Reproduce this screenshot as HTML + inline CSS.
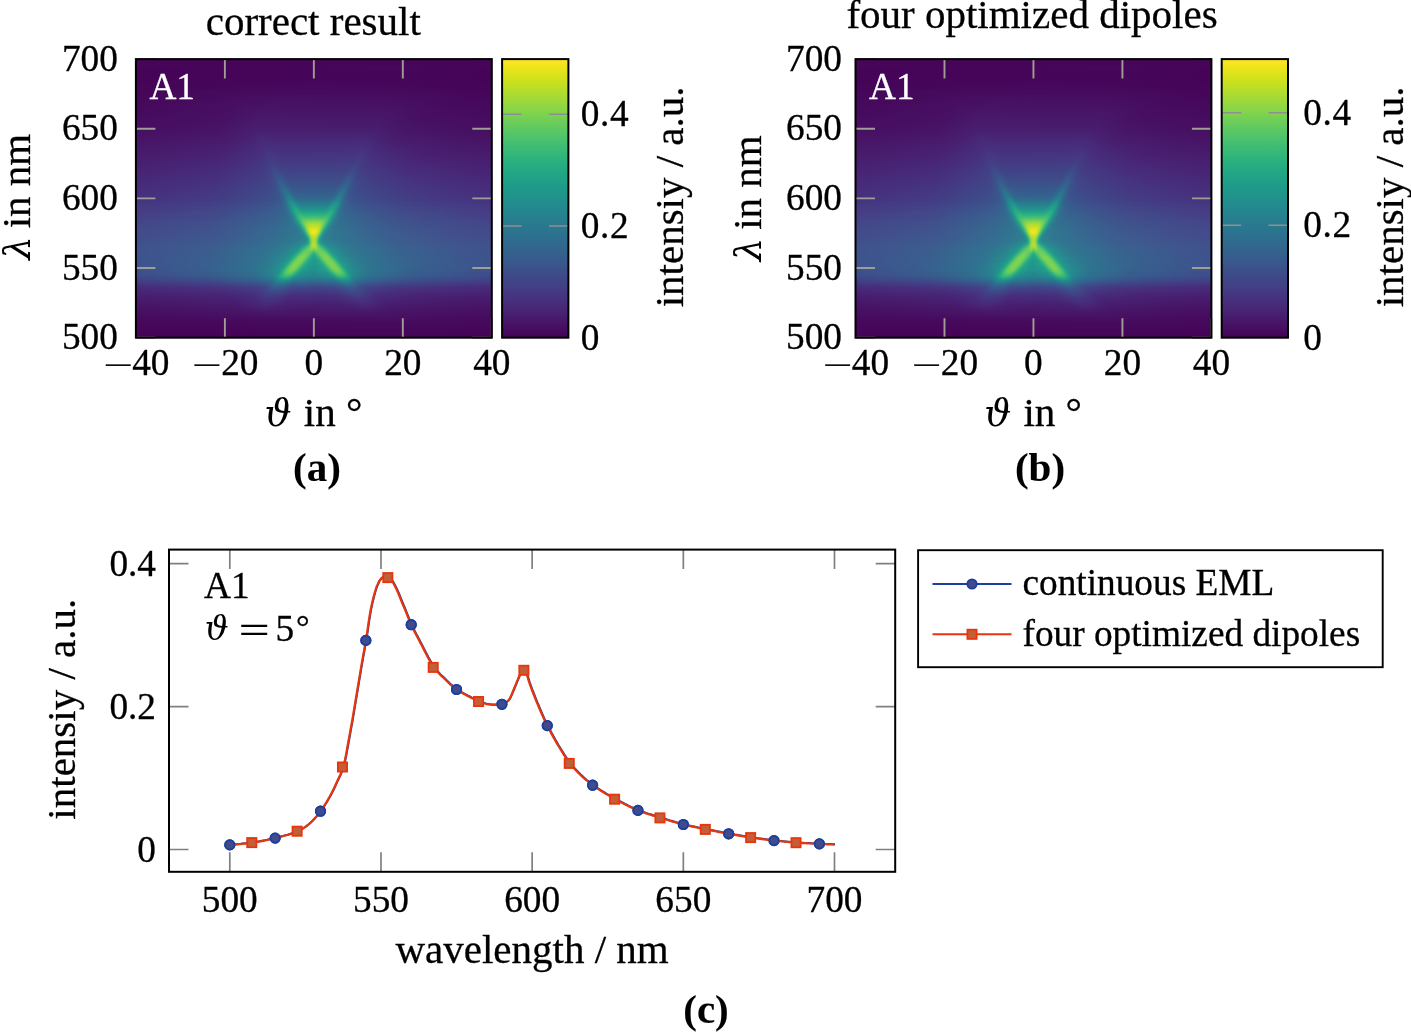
<!DOCTYPE html>
<html><head><meta charset="utf-8"><title>figure</title>
<style>html,body{margin:0;padding:0;background:#fff}svg{display:block}svg{font-family:"Liberation Serif",serif;font-size:37.3px}text{stroke:#000;stroke-width:.3px}text.w{fill:#fff;stroke:#fff}text.b{stroke-width:.1px}text.n{stroke:none}</style>
</head><body>
<svg width="1411" height="1032" viewBox="0 0 1411 1032">
<defs>
<linearGradient id="cb" x1="0" y1="1" x2="0" y2="0"><stop offset="0" stop-color="#440154"/><stop offset="0.03125" stop-color="#470d60"/><stop offset="0.0625" stop-color="#48186a"/><stop offset="0.09375" stop-color="#482374"/><stop offset="0.125" stop-color="#472d7b"/><stop offset="0.1562" stop-color="#453781"/><stop offset="0.1875" stop-color="#424086"/><stop offset="0.2188" stop-color="#3e4989"/><stop offset="0.25" stop-color="#3b528b"/><stop offset="0.2812" stop-color="#375b8d"/><stop offset="0.3125" stop-color="#33638d"/><stop offset="0.3438" stop-color="#2f6b8e"/><stop offset="0.375" stop-color="#2c728e"/><stop offset="0.4062" stop-color="#297a8e"/><stop offset="0.4375" stop-color="#26828e"/><stop offset="0.4688" stop-color="#23898e"/><stop offset="0.5" stop-color="#21918c"/><stop offset="0.5312" stop-color="#1f988b"/><stop offset="0.5625" stop-color="#1fa088"/><stop offset="0.5938" stop-color="#22a785"/><stop offset="0.625" stop-color="#28ae80"/><stop offset="0.6562" stop-color="#32b67a"/><stop offset="0.6875" stop-color="#3fbc73"/><stop offset="0.7188" stop-color="#4ec36b"/><stop offset="0.75" stop-color="#5ec962"/><stop offset="0.7812" stop-color="#70cf57"/><stop offset="0.8125" stop-color="#84d44b"/><stop offset="0.8438" stop-color="#98d83e"/><stop offset="0.875" stop-color="#addc30"/><stop offset="0.9062" stop-color="#c2df23"/><stop offset="0.9375" stop-color="#d8e219"/><stop offset="0.9688" stop-color="#ece51b"/><stop offset="1" stop-color="#fde725"/></linearGradient>
<linearGradient id="r0" gradientUnits="userSpaceOnUse" x1="0" x2="356.8" y1="0" y2="0"><stop offset="0" stop-color="#440256"/><stop offset="1" stop-color="#440256"/></linearGradient>
<linearGradient id="r1" gradientUnits="userSpaceOnUse" x1="0" x2="356.8" y1="0" y2="0"><stop offset="0" stop-color="#440256"/><stop offset="1" stop-color="#440256"/></linearGradient>
<linearGradient id="r2" gradientUnits="userSpaceOnUse" x1="0" x2="356.8" y1="0" y2="0"><stop offset="0" stop-color="#440256"/><stop offset="1" stop-color="#440256"/></linearGradient>
<linearGradient id="r3" gradientUnits="userSpaceOnUse" x1="0" x2="356.8" y1="0" y2="0"><stop offset="0" stop-color="#440256"/><stop offset="1" stop-color="#440256"/></linearGradient>
<linearGradient id="r4" gradientUnits="userSpaceOnUse" x1="0" x2="356.8" y1="0" y2="0"><stop offset="0" stop-color="#440256"/><stop offset="0.7402" stop-color="#450559"/><stop offset="1" stop-color="#440256"/></linearGradient>
<linearGradient id="r5" gradientUnits="userSpaceOnUse" x1="0" x2="356.8" y1="0" y2="0"><stop offset="0" stop-color="#440256"/><stop offset="0.7514" stop-color="#450559"/><stop offset="1" stop-color="#440256"/></linearGradient>
<linearGradient id="r6" gradientUnits="userSpaceOnUse" x1="0" x2="356.8" y1="0" y2="0"><stop offset="0" stop-color="#440256"/><stop offset="0.7626" stop-color="#450559"/><stop offset="1" stop-color="#440256"/></linearGradient>
<linearGradient id="r7" gradientUnits="userSpaceOnUse" x1="0" x2="356.8" y1="0" y2="0"><stop offset="0" stop-color="#440256"/><stop offset="0.7737" stop-color="#450559"/><stop offset="1" stop-color="#440256"/></linearGradient>
<linearGradient id="r8" gradientUnits="userSpaceOnUse" x1="0" x2="356.8" y1="0" y2="0"><stop offset="0" stop-color="#440256"/><stop offset="0.7849" stop-color="#450559"/><stop offset="1" stop-color="#440256"/></linearGradient>
<linearGradient id="r9" gradientUnits="userSpaceOnUse" x1="0" x2="356.8" y1="0" y2="0"><stop offset="0" stop-color="#450457"/><stop offset="0.7291" stop-color="#46075a"/><stop offset="1" stop-color="#450457"/></linearGradient>
<linearGradient id="r10" gradientUnits="userSpaceOnUse" x1="0" x2="356.8" y1="0" y2="0"><stop offset="0" stop-color="#450457"/><stop offset="0.7346" stop-color="#46075a"/><stop offset="1" stop-color="#450457"/></linearGradient>
<linearGradient id="r11" gradientUnits="userSpaceOnUse" x1="0" x2="356.8" y1="0" y2="0"><stop offset="0" stop-color="#450457"/><stop offset="0.2765" stop-color="#46075a"/><stop offset="0.7626" stop-color="#46075a"/><stop offset="1" stop-color="#450457"/></linearGradient>
<linearGradient id="r12" gradientUnits="userSpaceOnUse" x1="0" x2="356.8" y1="0" y2="0"><stop offset="0" stop-color="#450457"/><stop offset="0.5168" stop-color="#46085c"/><stop offset="0.919" stop-color="#450559"/><stop offset="1" stop-color="#450457"/></linearGradient>
<linearGradient id="r13" gradientUnits="userSpaceOnUse" x1="0" x2="356.8" y1="0" y2="0"><stop offset="0" stop-color="#450559"/><stop offset="0.2765" stop-color="#46085c"/><stop offset="0.757" stop-color="#46085c"/><stop offset="1" stop-color="#450559"/></linearGradient>
<linearGradient id="r14" gradientUnits="userSpaceOnUse" x1="0" x2="356.8" y1="0" y2="0"><stop offset="0" stop-color="#450559"/><stop offset="0.5279" stop-color="#460a5d"/><stop offset="0.8631" stop-color="#46075a"/><stop offset="1" stop-color="#450559"/></linearGradient>
<linearGradient id="r15" gradientUnits="userSpaceOnUse" x1="0" x2="356.8" y1="0" y2="0"><stop offset="0" stop-color="#450559"/><stop offset="0.4721" stop-color="#460b5e"/><stop offset="0.757" stop-color="#460a5d"/><stop offset="1" stop-color="#450559"/></linearGradient>
<linearGradient id="r16" gradientUnits="userSpaceOnUse" x1="0" x2="356.8" y1="0" y2="0"><stop offset="0" stop-color="#46075a"/><stop offset="0.2877" stop-color="#460b5e"/><stop offset="0.7346" stop-color="#460b5e"/><stop offset="1" stop-color="#46075a"/></linearGradient>
<linearGradient id="r17" gradientUnits="userSpaceOnUse" x1="0" x2="356.8" y1="0" y2="0"><stop offset="0" stop-color="#46075a"/><stop offset="0.2709" stop-color="#460b5e"/><stop offset="0.7514" stop-color="#460b5e"/><stop offset="1" stop-color="#46075a"/></linearGradient>
<linearGradient id="r18" gradientUnits="userSpaceOnUse" x1="0" x2="356.8" y1="0" y2="0"><stop offset="0" stop-color="#46075a"/><stop offset="0.2598" stop-color="#460b5e"/><stop offset="0.4609" stop-color="#470e61"/><stop offset="0.7346" stop-color="#470d60"/><stop offset="0.9022" stop-color="#46085c"/><stop offset="1" stop-color="#46075a"/></linearGradient>
<linearGradient id="r19" gradientUnits="userSpaceOnUse" x1="0" x2="356.8" y1="0" y2="0"><stop offset="0" stop-color="#46075a"/><stop offset="0.2486" stop-color="#460b5e"/><stop offset="0.3492" stop-color="#471063"/><stop offset="0.7179" stop-color="#470e61"/><stop offset="0.9246" stop-color="#46085c"/><stop offset="1" stop-color="#46075a"/></linearGradient>
<linearGradient id="r20" gradientUnits="userSpaceOnUse" x1="0" x2="356.8" y1="0" y2="0"><stop offset="0" stop-color="#46085c"/><stop offset="0.2374" stop-color="#460b5e"/><stop offset="0.3492" stop-color="#471063"/><stop offset="0.7291" stop-color="#470e61"/><stop offset="0.9637" stop-color="#46085c"/><stop offset="1" stop-color="#46085c"/></linearGradient>
<linearGradient id="r21" gradientUnits="userSpaceOnUse" x1="0" x2="356.8" y1="0" y2="0"><stop offset="0" stop-color="#46085c"/><stop offset="0.2765" stop-color="#470e61"/><stop offset="0.405" stop-color="#471164"/><stop offset="0.7179" stop-color="#471063"/><stop offset="0.8631" stop-color="#460a5d"/><stop offset="1" stop-color="#46085c"/></linearGradient>
<linearGradient id="r22" gradientUnits="userSpaceOnUse" x1="0" x2="356.8" y1="0" y2="0"><stop offset="0" stop-color="#46085c"/><stop offset="0.2654" stop-color="#470e61"/><stop offset="0.433" stop-color="#471164"/><stop offset="0.7291" stop-color="#471063"/><stop offset="0.8743" stop-color="#460a5d"/><stop offset="1" stop-color="#46085c"/></linearGradient>
<linearGradient id="r23" gradientUnits="userSpaceOnUse" x1="0" x2="356.8" y1="0" y2="0"><stop offset="0" stop-color="#460a5d"/><stop offset="0.2598" stop-color="#470e61"/><stop offset="0.3492" stop-color="#471365"/><stop offset="0.7179" stop-color="#471164"/><stop offset="0.8966" stop-color="#460a5d"/><stop offset="1" stop-color="#460a5d"/></linearGradient>
<linearGradient id="r24" gradientUnits="userSpaceOnUse" x1="0" x2="356.8" y1="0" y2="0"><stop offset="0" stop-color="#460a5d"/><stop offset="0.2486" stop-color="#470e61"/><stop offset="0.3492" stop-color="#481467"/><stop offset="0.7067" stop-color="#471365"/><stop offset="0.8128" stop-color="#470d60"/><stop offset="1" stop-color="#460a5d"/></linearGradient>
<linearGradient id="r25" gradientUnits="userSpaceOnUse" x1="0" x2="356.8" y1="0" y2="0"><stop offset="0" stop-color="#460a5d"/><stop offset="0.2374" stop-color="#470e61"/><stop offset="0.3492" stop-color="#481467"/><stop offset="0.7123" stop-color="#471365"/><stop offset="0.8296" stop-color="#470d60"/><stop offset="1" stop-color="#460a5d"/></linearGradient>
<linearGradient id="r26" gradientUnits="userSpaceOnUse" x1="0" x2="356.8" y1="0" y2="0"><stop offset="0" stop-color="#460b5e"/><stop offset="0.2263" stop-color="#470e61"/><stop offset="0.3436" stop-color="#481668"/><stop offset="0.7011" stop-color="#481467"/><stop offset="0.8464" stop-color="#470d60"/><stop offset="1" stop-color="#460b5e"/></linearGradient>
<linearGradient id="r27" gradientUnits="userSpaceOnUse" x1="0" x2="356.8" y1="0" y2="0"><stop offset="0" stop-color="#460b5e"/><stop offset="0.243" stop-color="#471063"/><stop offset="0.3547" stop-color="#481769"/><stop offset="0.6955" stop-color="#481668"/><stop offset="0.8352" stop-color="#470d60"/><stop offset="1" stop-color="#460b5e"/></linearGradient>
<linearGradient id="r28" gradientUnits="userSpaceOnUse" x1="0" x2="356.8" y1="0" y2="0"><stop offset="0" stop-color="#460b5e"/><stop offset="0.2598" stop-color="#471164"/><stop offset="0.338" stop-color="#481769"/><stop offset="0.7011" stop-color="#481668"/><stop offset="0.824" stop-color="#470e61"/><stop offset="1" stop-color="#460b5e"/></linearGradient>
<linearGradient id="r29" gradientUnits="userSpaceOnUse" x1="0" x2="356.8" y1="0" y2="0"><stop offset="0" stop-color="#460b5e"/><stop offset="0.2542" stop-color="#471164"/><stop offset="0.3492" stop-color="#48186a"/><stop offset="0.7067" stop-color="#481668"/><stop offset="0.7961" stop-color="#471063"/><stop offset="1" stop-color="#460b5e"/></linearGradient>
<linearGradient id="r30" gradientUnits="userSpaceOnUse" x1="0" x2="356.8" y1="0" y2="0"><stop offset="0" stop-color="#470d60"/><stop offset="0.243" stop-color="#471164"/><stop offset="0.3492" stop-color="#481a6c"/><stop offset="0.6899" stop-color="#48186a"/><stop offset="0.8073" stop-color="#471063"/><stop offset="1" stop-color="#470d60"/></linearGradient>
<linearGradient id="r31" gradientUnits="userSpaceOnUse" x1="0" x2="356.8" y1="0" y2="0"><stop offset="0" stop-color="#470d60"/><stop offset="0.2374" stop-color="#471164"/><stop offset="0.338" stop-color="#481b6d"/><stop offset="0.6844" stop-color="#481a6c"/><stop offset="0.7793" stop-color="#471164"/><stop offset="1" stop-color="#470d60"/></linearGradient>
<linearGradient id="r32" gradientUnits="userSpaceOnUse" x1="0" x2="356.8" y1="0" y2="0"><stop offset="0" stop-color="#470d60"/><stop offset="0.2263" stop-color="#471164"/><stop offset="0.3436" stop-color="#481b6d"/><stop offset="0.6844" stop-color="#481a6c"/><stop offset="0.7961" stop-color="#471164"/><stop offset="1" stop-color="#470d60"/></linearGradient>
<linearGradient id="r33" gradientUnits="userSpaceOnUse" x1="0" x2="356.8" y1="0" y2="0"><stop offset="0" stop-color="#470e61"/><stop offset="0.2151" stop-color="#471164"/><stop offset="0.3492" stop-color="#481c6e"/><stop offset="0.6788" stop-color="#481b6d"/><stop offset="0.7737" stop-color="#471365"/><stop offset="0.986" stop-color="#470e61"/><stop offset="1" stop-color="#470e61"/></linearGradient>
<linearGradient id="r34" gradientUnits="userSpaceOnUse" x1="0" x2="356.8" y1="0" y2="0"><stop offset="0" stop-color="#470e61"/><stop offset="0.2542" stop-color="#481467"/><stop offset="0.3212" stop-color="#481b6d"/><stop offset="0.338" stop-color="#481f70"/><stop offset="0.4385" stop-color="#481c6e"/><stop offset="0.6564" stop-color="#481d6f"/><stop offset="0.6732" stop-color="#481d6f"/><stop offset="0.7346" stop-color="#481668"/><stop offset="0.8799" stop-color="#471063"/><stop offset="1" stop-color="#470e61"/></linearGradient>
<linearGradient id="r35" gradientUnits="userSpaceOnUse" x1="0" x2="356.8" y1="0" y2="0"><stop offset="0" stop-color="#470e61"/><stop offset="0.243" stop-color="#481467"/><stop offset="0.3492" stop-color="#481f70"/><stop offset="0.6508" stop-color="#481f70"/><stop offset="0.7961" stop-color="#471365"/><stop offset="1" stop-color="#470e61"/></linearGradient>
<linearGradient id="r36" gradientUnits="userSpaceOnUse" x1="0" x2="356.8" y1="0" y2="0"><stop offset="0" stop-color="#471063"/><stop offset="0.2263" stop-color="#481467"/><stop offset="0.3324" stop-color="#482071"/><stop offset="0.6453" stop-color="#482071"/><stop offset="0.6676" stop-color="#482071"/><stop offset="0.757" stop-color="#481668"/><stop offset="0.9804" stop-color="#471063"/><stop offset="1" stop-color="#471063"/></linearGradient>
<linearGradient id="r37" gradientUnits="userSpaceOnUse" x1="0" x2="356.8" y1="0" y2="0"><stop offset="0" stop-color="#471164"/><stop offset="0.2263" stop-color="#481668"/><stop offset="0.3268" stop-color="#482071"/><stop offset="0.3547" stop-color="#482374"/><stop offset="0.6508" stop-color="#482374"/><stop offset="0.7514" stop-color="#481769"/><stop offset="1" stop-color="#471164"/></linearGradient>
<linearGradient id="r38" gradientUnits="userSpaceOnUse" x1="0" x2="356.8" y1="0" y2="0"><stop offset="0" stop-color="#471164"/><stop offset="0.2542" stop-color="#48186a"/><stop offset="0.3268" stop-color="#482071"/><stop offset="0.3492" stop-color="#482576"/><stop offset="0.6676" stop-color="#482374"/><stop offset="0.7179" stop-color="#481b6d"/><stop offset="0.9134" stop-color="#471365"/><stop offset="1" stop-color="#471164"/></linearGradient>
<linearGradient id="r39" gradientUnits="userSpaceOnUse" x1="0" x2="356.8" y1="0" y2="0"><stop offset="0" stop-color="#471365"/><stop offset="0.2374" stop-color="#48186a"/><stop offset="0.3324" stop-color="#482374"/><stop offset="0.3492" stop-color="#482878"/><stop offset="0.4218" stop-color="#482475"/><stop offset="0.6453" stop-color="#482677"/><stop offset="0.662" stop-color="#482576"/><stop offset="0.7291" stop-color="#481b6d"/><stop offset="0.9637" stop-color="#471365"/><stop offset="1" stop-color="#471365"/></linearGradient>
<linearGradient id="r40" gradientUnits="userSpaceOnUse" x1="0" x2="356.8" y1="0" y2="0"><stop offset="0" stop-color="#481467"/><stop offset="0.2374" stop-color="#481a6c"/><stop offset="0.3324" stop-color="#482475"/><stop offset="0.3547" stop-color="#482979"/><stop offset="0.4218" stop-color="#482677"/><stop offset="0.6397" stop-color="#482878"/><stop offset="0.662" stop-color="#482677"/><stop offset="0.7179" stop-color="#481d6f"/><stop offset="0.9022" stop-color="#481668"/><stop offset="1" stop-color="#481467"/></linearGradient>
<linearGradient id="r41" gradientUnits="userSpaceOnUse" x1="0" x2="356.8" y1="0" y2="0"><stop offset="0" stop-color="#481467"/><stop offset="0.2374" stop-color="#481b6d"/><stop offset="0.338" stop-color="#482677"/><stop offset="0.3547" stop-color="#472c7a"/><stop offset="0.3994" stop-color="#482878"/><stop offset="0.6397" stop-color="#472a7a"/><stop offset="0.6564" stop-color="#482979"/><stop offset="0.7123" stop-color="#481f70"/><stop offset="0.8799" stop-color="#481769"/><stop offset="1" stop-color="#481467"/></linearGradient>
<linearGradient id="r42" gradientUnits="userSpaceOnUse" x1="0" x2="356.8" y1="0" y2="0"><stop offset="0" stop-color="#481668"/><stop offset="0.243" stop-color="#481c6e"/><stop offset="0.3436" stop-color="#482979"/><stop offset="0.3659" stop-color="#472c7a"/><stop offset="0.4665" stop-color="#482979"/><stop offset="0.6285" stop-color="#472a7a"/><stop offset="0.6508" stop-color="#472c7a"/><stop offset="0.6899" stop-color="#482374"/><stop offset="0.8184" stop-color="#481a6c"/><stop offset="1" stop-color="#481668"/></linearGradient>
<linearGradient id="r43" gradientUnits="userSpaceOnUse" x1="0" x2="356.8" y1="0" y2="0"><stop offset="0" stop-color="#481769"/><stop offset="0.243" stop-color="#481d6f"/><stop offset="0.3436" stop-color="#472a7a"/><stop offset="0.3659" stop-color="#472e7c"/><stop offset="0.6341" stop-color="#472e7c"/><stop offset="0.7291" stop-color="#482071"/><stop offset="0.9525" stop-color="#481769"/><stop offset="1" stop-color="#481769"/></linearGradient>
<linearGradient id="r44" gradientUnits="userSpaceOnUse" x1="0" x2="356.8" y1="0" y2="0"><stop offset="0" stop-color="#481769"/><stop offset="0.2598" stop-color="#482071"/><stop offset="0.338" stop-color="#472a7a"/><stop offset="0.3659" stop-color="#46307e"/><stop offset="0.4609" stop-color="#472d7b"/><stop offset="0.6285" stop-color="#472f7d"/><stop offset="0.6564" stop-color="#472c7a"/><stop offset="0.7123" stop-color="#482374"/><stop offset="0.8687" stop-color="#481a6c"/><stop offset="1" stop-color="#481769"/></linearGradient>
<linearGradient id="r45" gradientUnits="userSpaceOnUse" x1="0" x2="356.8" y1="0" y2="0"><stop offset="0" stop-color="#48186a"/><stop offset="0.2654" stop-color="#482173"/><stop offset="0.3492" stop-color="#472e7c"/><stop offset="0.3659" stop-color="#46337f"/><stop offset="0.4106" stop-color="#472f7d"/><stop offset="0.6229" stop-color="#46307e"/><stop offset="0.6397" stop-color="#46337f"/><stop offset="0.6732" stop-color="#482979"/><stop offset="0.8073" stop-color="#481d6f"/><stop offset="1" stop-color="#48186a"/></linearGradient>
<linearGradient id="r46" gradientUnits="userSpaceOnUse" x1="0" x2="356.8" y1="0" y2="0"><stop offset="0" stop-color="#481a6c"/><stop offset="0.2318" stop-color="#482071"/><stop offset="0.3436" stop-color="#472d7b"/><stop offset="0.3715" stop-color="#463480"/><stop offset="0.4162" stop-color="#46307e"/><stop offset="0.6229" stop-color="#46327e"/><stop offset="0.6397" stop-color="#46337f"/><stop offset="0.6899" stop-color="#482878"/><stop offset="0.8352" stop-color="#481d6f"/><stop offset="1" stop-color="#481a6c"/></linearGradient>
<linearGradient id="r47" gradientUnits="userSpaceOnUse" x1="0" x2="356.8" y1="0" y2="0"><stop offset="0" stop-color="#481b6d"/><stop offset="0.2318" stop-color="#482173"/><stop offset="0.3492" stop-color="#472f7d"/><stop offset="0.3715" stop-color="#453781"/><stop offset="0.405" stop-color="#46327e"/><stop offset="0.6229" stop-color="#463480"/><stop offset="0.6341" stop-color="#453781"/><stop offset="0.662" stop-color="#472d7b"/><stop offset="0.8128" stop-color="#481f70"/><stop offset="1" stop-color="#481b6d"/></linearGradient>
<linearGradient id="r48" gradientUnits="userSpaceOnUse" x1="0" x2="356.8" y1="0" y2="0"><stop offset="0" stop-color="#481b6d"/><stop offset="0.2151" stop-color="#482173"/><stop offset="0.3492" stop-color="#46307e"/><stop offset="0.3715" stop-color="#443983"/><stop offset="0.405" stop-color="#463480"/><stop offset="0.6173" stop-color="#453581"/><stop offset="0.6341" stop-color="#453882"/><stop offset="0.662" stop-color="#472e7c"/><stop offset="0.8184" stop-color="#482071"/><stop offset="1" stop-color="#481b6d"/></linearGradient>
<linearGradient id="r49" gradientUnits="userSpaceOnUse" x1="0" x2="356.8" y1="0" y2="0"><stop offset="0" stop-color="#481c6e"/><stop offset="0.2151" stop-color="#482374"/><stop offset="0.3436" stop-color="#46307e"/><stop offset="0.3771" stop-color="#443a83"/><stop offset="0.4218" stop-color="#453581"/><stop offset="0.6117" stop-color="#453781"/><stop offset="0.6341" stop-color="#453882"/><stop offset="0.6732" stop-color="#472e7c"/><stop offset="0.7961" stop-color="#482374"/><stop offset="1" stop-color="#481c6e"/></linearGradient>
<linearGradient id="r50" gradientUnits="userSpaceOnUse" x1="0" x2="356.8" y1="0" y2="0"><stop offset="0" stop-color="#481d6f"/><stop offset="0.2374" stop-color="#482576"/><stop offset="0.3603" stop-color="#453581"/><stop offset="0.3771" stop-color="#433d84"/><stop offset="0.4106" stop-color="#453882"/><stop offset="0.6117" stop-color="#443983"/><stop offset="0.6229" stop-color="#433d84"/><stop offset="0.6508" stop-color="#46337f"/><stop offset="0.7682" stop-color="#482576"/><stop offset="1" stop-color="#481d6f"/></linearGradient>
<linearGradient id="r51" gradientUnits="userSpaceOnUse" x1="0" x2="356.8" y1="0" y2="0"><stop offset="0" stop-color="#481f70"/><stop offset="0.2207" stop-color="#482576"/><stop offset="0.3547" stop-color="#453581"/><stop offset="0.3771" stop-color="#423f85"/><stop offset="0.4162" stop-color="#443983"/><stop offset="0.6061" stop-color="#443a83"/><stop offset="0.6229" stop-color="#423f85"/><stop offset="0.6564" stop-color="#46337f"/><stop offset="0.7849" stop-color="#482576"/><stop offset="1" stop-color="#481f70"/></linearGradient>
<linearGradient id="r52" gradientUnits="userSpaceOnUse" x1="0" x2="356.8" y1="0" y2="0"><stop offset="0" stop-color="#481f70"/><stop offset="0.2207" stop-color="#482677"/><stop offset="0.3492" stop-color="#453581"/><stop offset="0.3827" stop-color="#424186"/><stop offset="0.4106" stop-color="#443b84"/><stop offset="0.6006" stop-color="#443b84"/><stop offset="0.6173" stop-color="#424186"/><stop offset="0.6676" stop-color="#46327e"/><stop offset="0.8296" stop-color="#482475"/><stop offset="1" stop-color="#481f70"/></linearGradient>
<linearGradient id="r53" gradientUnits="userSpaceOnUse" x1="0" x2="356.8" y1="0" y2="0"><stop offset="0" stop-color="#482071"/><stop offset="0.2542" stop-color="#472a7a"/><stop offset="0.3547" stop-color="#453781"/><stop offset="0.3883" stop-color="#414487"/><stop offset="0.4162" stop-color="#433d84"/><stop offset="0.6006" stop-color="#423f85"/><stop offset="0.6173" stop-color="#414487"/><stop offset="0.6453" stop-color="#453781"/><stop offset="0.7626" stop-color="#482979"/><stop offset="1" stop-color="#482071"/></linearGradient>
<linearGradient id="r54" gradientUnits="userSpaceOnUse" x1="0" x2="356.8" y1="0" y2="0"><stop offset="0" stop-color="#482173"/><stop offset="0.2374" stop-color="#472a7a"/><stop offset="0.3603" stop-color="#443983"/><stop offset="0.3883" stop-color="#3f4788"/><stop offset="0.4106" stop-color="#423f85"/><stop offset="0.6006" stop-color="#424186"/><stop offset="0.6117" stop-color="#3f4788"/><stop offset="0.6453" stop-color="#453882"/><stop offset="0.7514" stop-color="#472c7a"/><stop offset="0.9022" stop-color="#482475"/><stop offset="1" stop-color="#482173"/></linearGradient>
<linearGradient id="r55" gradientUnits="userSpaceOnUse" x1="0" x2="356.8" y1="0" y2="0"><stop offset="0" stop-color="#482374"/><stop offset="0.2207" stop-color="#472a7a"/><stop offset="0.3492" stop-color="#443983"/><stop offset="0.3715" stop-color="#423f85"/><stop offset="0.3883" stop-color="#3e4989"/><stop offset="0.4218" stop-color="#424086"/><stop offset="0.595" stop-color="#414287"/><stop offset="0.6117" stop-color="#3e4989"/><stop offset="0.6397" stop-color="#443a83"/><stop offset="0.7514" stop-color="#472d7b"/><stop offset="0.9302" stop-color="#482475"/><stop offset="1" stop-color="#482374"/></linearGradient>
<linearGradient id="r56" gradientUnits="userSpaceOnUse" x1="0" x2="356.8" y1="0" y2="0"><stop offset="0" stop-color="#482475"/><stop offset="0.2039" stop-color="#472a7a"/><stop offset="0.3268" stop-color="#453781"/><stop offset="0.3715" stop-color="#423f85"/><stop offset="0.3939" stop-color="#3d4d8a"/><stop offset="0.4162" stop-color="#414287"/><stop offset="0.5894" stop-color="#414487"/><stop offset="0.6061" stop-color="#3d4d8a"/><stop offset="0.6173" stop-color="#3f4788"/><stop offset="0.6397" stop-color="#443b84"/><stop offset="0.7682" stop-color="#472d7b"/><stop offset="0.9693" stop-color="#482475"/><stop offset="1" stop-color="#482475"/></linearGradient>
<linearGradient id="r57" gradientUnits="userSpaceOnUse" x1="0" x2="356.8" y1="0" y2="0"><stop offset="0" stop-color="#482475"/><stop offset="0.2207" stop-color="#472d7b"/><stop offset="0.3492" stop-color="#443b84"/><stop offset="0.3771" stop-color="#414287"/><stop offset="0.3939" stop-color="#3c508b"/><stop offset="0.4218" stop-color="#404588"/><stop offset="0.5894" stop-color="#3f4788"/><stop offset="0.6061" stop-color="#3c508b"/><stop offset="0.6285" stop-color="#424086"/><stop offset="0.7514" stop-color="#472f7d"/><stop offset="0.9749" stop-color="#482576"/><stop offset="1" stop-color="#482475"/></linearGradient>
<linearGradient id="r58" gradientUnits="userSpaceOnUse" x1="0" x2="356.8" y1="0" y2="0"><stop offset="0" stop-color="#482576"/><stop offset="0.2542" stop-color="#46307e"/><stop offset="0.3715" stop-color="#424186"/><stop offset="0.3939" stop-color="#3b528b"/><stop offset="0.405" stop-color="#3c508b"/><stop offset="0.4218" stop-color="#3f4788"/><stop offset="0.5838" stop-color="#3f4889"/><stop offset="0.6006" stop-color="#3a538b"/><stop offset="0.6117" stop-color="#3d4d8a"/><stop offset="0.6285" stop-color="#424186"/><stop offset="0.7514" stop-color="#46307e"/><stop offset="1" stop-color="#482576"/></linearGradient>
<linearGradient id="r59" gradientUnits="userSpaceOnUse" x1="0" x2="356.8" y1="0" y2="0"><stop offset="0" stop-color="#482677"/><stop offset="0.2374" stop-color="#46307e"/><stop offset="0.3715" stop-color="#414287"/><stop offset="0.3883" stop-color="#3d4d8a"/><stop offset="0.3994" stop-color="#38588c"/><stop offset="0.4274" stop-color="#3e4989"/><stop offset="0.5782" stop-color="#3e4a89"/><stop offset="0.6006" stop-color="#38588c"/><stop offset="0.6229" stop-color="#414487"/><stop offset="0.6899" stop-color="#453882"/><stop offset="0.8464" stop-color="#472c7a"/><stop offset="1" stop-color="#482677"/></linearGradient>
<linearGradient id="r60" gradientUnits="userSpaceOnUse" x1="0" x2="356.8" y1="0" y2="0"><stop offset="0" stop-color="#482878"/><stop offset="0.2263" stop-color="#46307e"/><stop offset="0.3659" stop-color="#424186"/><stop offset="0.3827" stop-color="#3f4788"/><stop offset="0.3994" stop-color="#375a8c"/><stop offset="0.405" stop-color="#375b8d"/><stop offset="0.4218" stop-color="#3d4d8a"/><stop offset="0.5782" stop-color="#3d4d8a"/><stop offset="0.595" stop-color="#375b8d"/><stop offset="0.6006" stop-color="#375a8c"/><stop offset="0.6173" stop-color="#3f4788"/><stop offset="0.662" stop-color="#433d84"/><stop offset="0.8184" stop-color="#472e7c"/><stop offset="1" stop-color="#482878"/></linearGradient>
<linearGradient id="r61" gradientUnits="userSpaceOnUse" x1="0" x2="356.8" y1="0" y2="0"><stop offset="0" stop-color="#482979"/><stop offset="0.2095" stop-color="#46307e"/><stop offset="0.3659" stop-color="#414287"/><stop offset="0.3883" stop-color="#3e4c8a"/><stop offset="0.405" stop-color="#355f8d"/><stop offset="0.4162" stop-color="#39568c"/><stop offset="0.433" stop-color="#3d4e8a"/><stop offset="0.5726" stop-color="#3c4f8a"/><stop offset="0.5838" stop-color="#39568c"/><stop offset="0.595" stop-color="#355f8d"/><stop offset="0.6173" stop-color="#3f4889"/><stop offset="0.662" stop-color="#433e85"/><stop offset="0.8408" stop-color="#472e7c"/><stop offset="1" stop-color="#482979"/></linearGradient>
<linearGradient id="r62" gradientUnits="userSpaceOnUse" x1="0" x2="356.8" y1="0" y2="0"><stop offset="0" stop-color="#482979"/><stop offset="0.2374" stop-color="#463480"/><stop offset="0.3715" stop-color="#404588"/><stop offset="0.3883" stop-color="#3e4c8a"/><stop offset="0.405" stop-color="#34618d"/><stop offset="0.4106" stop-color="#33628d"/><stop offset="0.4274" stop-color="#3b528b"/><stop offset="0.5726" stop-color="#3b528b"/><stop offset="0.5894" stop-color="#33628d"/><stop offset="0.595" stop-color="#34618d"/><stop offset="0.6117" stop-color="#3e4c8a"/><stop offset="0.6508" stop-color="#424186"/><stop offset="0.7961" stop-color="#46327e"/><stop offset="1" stop-color="#482979"/></linearGradient>
<linearGradient id="r63" gradientUnits="userSpaceOnUse" x1="0" x2="356.8" y1="0" y2="0"><stop offset="0" stop-color="#472a7a"/><stop offset="0.243" stop-color="#453581"/><stop offset="0.3771" stop-color="#3f4889"/><stop offset="0.3939" stop-color="#3c508b"/><stop offset="0.4106" stop-color="#31678e"/><stop offset="0.4218" stop-color="#365d8d"/><stop offset="0.433" stop-color="#3a538b"/><stop offset="0.567" stop-color="#3a538b"/><stop offset="0.5782" stop-color="#365d8d"/><stop offset="0.5894" stop-color="#31678e"/><stop offset="0.6061" stop-color="#3c508b"/><stop offset="0.6285" stop-color="#404688"/><stop offset="0.7737" stop-color="#463480"/><stop offset="1" stop-color="#472a7a"/></linearGradient>
<linearGradient id="r64" gradientUnits="userSpaceOnUse" x1="0" x2="356.8" y1="0" y2="0"><stop offset="0" stop-color="#472c7a"/><stop offset="0.2263" stop-color="#453581"/><stop offset="0.3771" stop-color="#3f4889"/><stop offset="0.3994" stop-color="#39568c"/><stop offset="0.4106" stop-color="#30698e"/><stop offset="0.4162" stop-color="#306a8e"/><stop offset="0.433" stop-color="#38588c"/><stop offset="0.4665" stop-color="#39558c"/><stop offset="0.5615" stop-color="#39558c"/><stop offset="0.5726" stop-color="#365d8d"/><stop offset="0.5838" stop-color="#306a8e"/><stop offset="0.5894" stop-color="#30698e"/><stop offset="0.6061" stop-color="#3c508b"/><stop offset="0.6397" stop-color="#404588"/><stop offset="0.7626" stop-color="#453781"/><stop offset="0.9469" stop-color="#472d7b"/><stop offset="1" stop-color="#472c7a"/></linearGradient>
<linearGradient id="r65" gradientUnits="userSpaceOnUse" x1="0" x2="356.8" y1="0" y2="0"><stop offset="0" stop-color="#472d7b"/><stop offset="0.2151" stop-color="#453581"/><stop offset="0.3771" stop-color="#3e4989"/><stop offset="0.3994" stop-color="#39558c"/><stop offset="0.4106" stop-color="#30698e"/><stop offset="0.4162" stop-color="#2e6f8e"/><stop offset="0.4274" stop-color="#32658e"/><stop offset="0.433" stop-color="#365d8d"/><stop offset="0.4553" stop-color="#38588c"/><stop offset="0.5615" stop-color="#375a8c"/><stop offset="0.567" stop-color="#365d8d"/><stop offset="0.5782" stop-color="#2f6c8e"/><stop offset="0.5838" stop-color="#2e6f8e"/><stop offset="0.5894" stop-color="#30698e"/><stop offset="0.6006" stop-color="#39558c"/><stop offset="0.6229" stop-color="#3e4989"/><stop offset="0.757" stop-color="#453882"/><stop offset="0.9581" stop-color="#472e7c"/><stop offset="1" stop-color="#472d7b"/></linearGradient>
<linearGradient id="r66" gradientUnits="userSpaceOnUse" x1="0" x2="356.8" y1="0" y2="0"><stop offset="0" stop-color="#472e7c"/><stop offset="0.1983" stop-color="#453581"/><stop offset="0.3715" stop-color="#3e4989"/><stop offset="0.3994" stop-color="#3a548c"/><stop offset="0.4162" stop-color="#2d718e"/><stop offset="0.4218" stop-color="#2c728e"/><stop offset="0.4385" stop-color="#355e8d"/><stop offset="0.4832" stop-color="#375b8d"/><stop offset="0.5559" stop-color="#365c8d"/><stop offset="0.567" stop-color="#32648e"/><stop offset="0.5782" stop-color="#2c728e"/><stop offset="0.5838" stop-color="#2d718e"/><stop offset="0.6006" stop-color="#3a548c"/><stop offset="0.6341" stop-color="#3f4889"/><stop offset="0.7737" stop-color="#453882"/><stop offset="0.986" stop-color="#472e7c"/><stop offset="1" stop-color="#472e7c"/></linearGradient>
<linearGradient id="r67" gradientUnits="userSpaceOnUse" x1="0" x2="356.8" y1="0" y2="0"><stop offset="0" stop-color="#472e7c"/><stop offset="0.2598" stop-color="#443b84"/><stop offset="0.3827" stop-color="#3d4d8a"/><stop offset="0.3994" stop-color="#3a548c"/><stop offset="0.4106" stop-color="#32648e"/><stop offset="0.4218" stop-color="#2a778e"/><stop offset="0.433" stop-color="#2f6c8e"/><stop offset="0.4441" stop-color="#355f8d"/><stop offset="0.5559" stop-color="#355f8d"/><stop offset="0.5726" stop-color="#2b748e"/><stop offset="0.5782" stop-color="#2a778e"/><stop offset="0.5894" stop-color="#32648e"/><stop offset="0.6006" stop-color="#3a548c"/><stop offset="0.6508" stop-color="#404688"/><stop offset="0.8073" stop-color="#453781"/><stop offset="1" stop-color="#472e7c"/></linearGradient>
<linearGradient id="r68" gradientUnits="userSpaceOnUse" x1="0" x2="356.8" y1="0" y2="0"><stop offset="0" stop-color="#472f7d"/><stop offset="0.2486" stop-color="#443b84"/><stop offset="0.3827" stop-color="#3d4e8a"/><stop offset="0.3994" stop-color="#3a538b"/><stop offset="0.4106" stop-color="#34618d"/><stop offset="0.4218" stop-color="#2a788e"/><stop offset="0.4274" stop-color="#297b8e"/><stop offset="0.4441" stop-color="#32648e"/><stop offset="0.4777" stop-color="#34618d"/><stop offset="0.5503" stop-color="#34618d"/><stop offset="0.5615" stop-color="#2f6b8e"/><stop offset="0.5726" stop-color="#297b8e"/><stop offset="0.5782" stop-color="#2a788e"/><stop offset="0.595" stop-color="#38598c"/><stop offset="0.6061" stop-color="#3b518b"/><stop offset="0.7067" stop-color="#424086"/><stop offset="0.9022" stop-color="#46337f"/><stop offset="1" stop-color="#472f7d"/></linearGradient>
<linearGradient id="r69" gradientUnits="userSpaceOnUse" x1="0" x2="356.8" y1="0" y2="0"><stop offset="0" stop-color="#46307e"/><stop offset="0.2374" stop-color="#443b84"/><stop offset="0.3827" stop-color="#3c4f8a"/><stop offset="0.405" stop-color="#38588c"/><stop offset="0.4162" stop-color="#306a8e"/><stop offset="0.4274" stop-color="#27808e"/><stop offset="0.433" stop-color="#277e8e"/><stop offset="0.4441" stop-color="#2f6c8e"/><stop offset="0.4553" stop-color="#32658e"/><stop offset="0.5503" stop-color="#31678e"/><stop offset="0.5615" stop-color="#2b758e"/><stop offset="0.567" stop-color="#277e8e"/><stop offset="0.5726" stop-color="#27808e"/><stop offset="0.5894" stop-color="#355f8d"/><stop offset="0.6006" stop-color="#3a548c"/><stop offset="0.6732" stop-color="#404688"/><stop offset="0.8184" stop-color="#453882"/><stop offset="1" stop-color="#46307e"/></linearGradient>
<linearGradient id="r70" gradientUnits="userSpaceOnUse" x1="0" x2="356.8" y1="0" y2="0"><stop offset="0" stop-color="#46327e"/><stop offset="0.2207" stop-color="#443b84"/><stop offset="0.3827" stop-color="#3c508b"/><stop offset="0.405" stop-color="#38598c"/><stop offset="0.4162" stop-color="#31688e"/><stop offset="0.4274" stop-color="#26828e"/><stop offset="0.433" stop-color="#24878e"/><stop offset="0.4385" stop-color="#26818e"/><stop offset="0.4497" stop-color="#2e6f8e"/><stop offset="0.4721" stop-color="#2f6c8e"/><stop offset="0.5447" stop-color="#2f6c8e"/><stop offset="0.5559" stop-color="#2a768e"/><stop offset="0.567" stop-color="#24878e"/><stop offset="0.5726" stop-color="#26828e"/><stop offset="0.5894" stop-color="#355e8d"/><stop offset="0.6117" stop-color="#3b518b"/><stop offset="0.7514" stop-color="#433e85"/><stop offset="0.9637" stop-color="#46337f"/><stop offset="1" stop-color="#46327e"/></linearGradient>
<linearGradient id="r71" gradientUnits="userSpaceOnUse" x1="0" x2="356.8" y1="0" y2="0"><stop offset="0" stop-color="#46337f"/><stop offset="0.243" stop-color="#423f85"/><stop offset="0.3771" stop-color="#3b518b"/><stop offset="0.405" stop-color="#375a8c"/><stop offset="0.4162" stop-color="#31668e"/><stop offset="0.433" stop-color="#228d8d"/><stop offset="0.4385" stop-color="#228c8d"/><stop offset="0.4497" stop-color="#29798e"/><stop offset="0.4609" stop-color="#2c728e"/><stop offset="0.5447" stop-color="#2b748e"/><stop offset="0.5503" stop-color="#29798e"/><stop offset="0.5615" stop-color="#228c8d"/><stop offset="0.567" stop-color="#228d8d"/><stop offset="0.5838" stop-color="#31668e"/><stop offset="0.595" stop-color="#375a8c"/><stop offset="0.6229" stop-color="#3b518b"/><stop offset="0.7458" stop-color="#424086"/><stop offset="1" stop-color="#46337f"/></linearGradient>
<linearGradient id="r72" gradientUnits="userSpaceOnUse" x1="0" x2="356.8" y1="0" y2="0"><stop offset="0" stop-color="#463480"/><stop offset="0.2598" stop-color="#414287"/><stop offset="0.3939" stop-color="#39568c"/><stop offset="0.4162" stop-color="#32658e"/><stop offset="0.4274" stop-color="#27808e"/><stop offset="0.433" stop-color="#21908d"/><stop offset="0.4385" stop-color="#1f958b"/><stop offset="0.4441" stop-color="#21908d"/><stop offset="0.4553" stop-color="#277e8e"/><stop offset="0.4665" stop-color="#297a8e"/><stop offset="0.5391" stop-color="#297a8e"/><stop offset="0.5503" stop-color="#25858e"/><stop offset="0.5559" stop-color="#21908d"/><stop offset="0.5615" stop-color="#1f958b"/><stop offset="0.567" stop-color="#21908d"/><stop offset="0.5782" stop-color="#2d708e"/><stop offset="0.5838" stop-color="#32658e"/><stop offset="0.6061" stop-color="#39568c"/><stop offset="0.7291" stop-color="#414487"/><stop offset="0.9134" stop-color="#453882"/><stop offset="1" stop-color="#463480"/></linearGradient>
<linearGradient id="r73" gradientUnits="userSpaceOnUse" x1="0" x2="356.8" y1="0" y2="0"><stop offset="0" stop-color="#453781"/><stop offset="0.1983" stop-color="#423f85"/><stop offset="0.3659" stop-color="#3b528b"/><stop offset="0.405" stop-color="#365c8d"/><stop offset="0.4162" stop-color="#32648e"/><stop offset="0.4218" stop-color="#2e6d8e"/><stop offset="0.4385" stop-color="#1f9a8a"/><stop offset="0.4441" stop-color="#1e9b8a"/><stop offset="0.4609" stop-color="#26828e"/><stop offset="0.5391" stop-color="#26828e"/><stop offset="0.5559" stop-color="#1e9b8a"/><stop offset="0.5615" stop-color="#1f9a8a"/><stop offset="0.5782" stop-color="#2e6d8e"/><stop offset="0.5894" stop-color="#355f8d"/><stop offset="0.6285" stop-color="#3a538b"/><stop offset="0.7905" stop-color="#424086"/><stop offset="1" stop-color="#453781"/></linearGradient>
<linearGradient id="r74" gradientUnits="userSpaceOnUse" x1="0" x2="356.8" y1="0" y2="0"><stop offset="0" stop-color="#453882"/><stop offset="0.2095" stop-color="#424186"/><stop offset="0.3771" stop-color="#39558c"/><stop offset="0.4106" stop-color="#34608d"/><stop offset="0.4218" stop-color="#2f6b8e"/><stop offset="0.4274" stop-color="#2a768e"/><stop offset="0.4385" stop-color="#1f9a8a"/><stop offset="0.4441" stop-color="#1fa287"/><stop offset="0.4497" stop-color="#1f9f88"/><stop offset="0.4609" stop-color="#228d8d"/><stop offset="0.4777" stop-color="#238a8d"/><stop offset="0.5335" stop-color="#238a8d"/><stop offset="0.5447" stop-color="#1f948c"/><stop offset="0.5503" stop-color="#1f9f88"/><stop offset="0.5559" stop-color="#1fa287"/><stop offset="0.5615" stop-color="#1f9a8a"/><stop offset="0.5726" stop-color="#2a768e"/><stop offset="0.5838" stop-color="#32648e"/><stop offset="0.6173" stop-color="#39568c"/><stop offset="0.7626" stop-color="#414487"/><stop offset="0.9581" stop-color="#443983"/><stop offset="1" stop-color="#453882"/></linearGradient>
<linearGradient id="r75" gradientUnits="userSpaceOnUse" x1="0" x2="356.8" y1="0" y2="0"><stop offset="0" stop-color="#443983"/><stop offset="0.2039" stop-color="#414287"/><stop offset="0.3715" stop-color="#39568c"/><stop offset="0.4162" stop-color="#33638d"/><stop offset="0.4274" stop-color="#2c728e"/><stop offset="0.4385" stop-color="#1f958b"/><stop offset="0.4441" stop-color="#20a486"/><stop offset="0.4497" stop-color="#22a884"/><stop offset="0.4665" stop-color="#20928c"/><stop offset="0.5335" stop-color="#20928c"/><stop offset="0.5503" stop-color="#22a884"/><stop offset="0.5559" stop-color="#20a486"/><stop offset="0.5615" stop-color="#1f958b"/><stop offset="0.5726" stop-color="#2c728e"/><stop offset="0.5838" stop-color="#33638d"/><stop offset="0.6397" stop-color="#3a548c"/><stop offset="0.7849" stop-color="#414487"/><stop offset="1" stop-color="#443983"/></linearGradient>
<linearGradient id="r76" gradientUnits="userSpaceOnUse" x1="0" x2="356.8" y1="0" y2="0"><stop offset="0" stop-color="#443a83"/><stop offset="0.243" stop-color="#3f4788"/><stop offset="0.3939" stop-color="#365c8d"/><stop offset="0.4218" stop-color="#31688e"/><stop offset="0.433" stop-color="#287c8e"/><stop offset="0.4385" stop-color="#218e8d"/><stop offset="0.4441" stop-color="#1fa187"/><stop offset="0.4497" stop-color="#26ad81"/><stop offset="0.4553" stop-color="#25ac82"/><stop offset="0.4721" stop-color="#1e9c89"/><stop offset="0.5279" stop-color="#1e9c89"/><stop offset="0.5447" stop-color="#25ac82"/><stop offset="0.5503" stop-color="#26ad81"/><stop offset="0.5559" stop-color="#1fa187"/><stop offset="0.567" stop-color="#287c8e"/><stop offset="0.5782" stop-color="#31688e"/><stop offset="0.6061" stop-color="#365c8d"/><stop offset="0.7682" stop-color="#404688"/><stop offset="1" stop-color="#443a83"/></linearGradient>
<linearGradient id="r77" gradientUnits="userSpaceOnUse" x1="0" x2="356.8" y1="0" y2="0"><stop offset="0" stop-color="#443b84"/><stop offset="0.2374" stop-color="#3f4889"/><stop offset="0.3771" stop-color="#375b8d"/><stop offset="0.4162" stop-color="#32648e"/><stop offset="0.4274" stop-color="#2e6d8e"/><stop offset="0.4385" stop-color="#24868e"/><stop offset="0.4441" stop-color="#1e9b8a"/><stop offset="0.4497" stop-color="#25ac82"/><stop offset="0.4553" stop-color="#2eb37c"/><stop offset="0.4721" stop-color="#22a785"/><stop offset="0.5279" stop-color="#22a785"/><stop offset="0.5447" stop-color="#2eb37c"/><stop offset="0.5503" stop-color="#25ac82"/><stop offset="0.5559" stop-color="#1e9b8a"/><stop offset="0.5615" stop-color="#24868e"/><stop offset="0.5726" stop-color="#2e6d8e"/><stop offset="0.595" stop-color="#34608d"/><stop offset="0.7067" stop-color="#3d4e8a"/><stop offset="0.9078" stop-color="#423f85"/><stop offset="1" stop-color="#443b84"/></linearGradient>
<linearGradient id="r78" gradientUnits="userSpaceOnUse" x1="0" x2="356.8" y1="0" y2="0"><stop offset="0" stop-color="#433e85"/><stop offset="0.2095" stop-color="#3f4788"/><stop offset="0.3771" stop-color="#365c8d"/><stop offset="0.4218" stop-color="#31678e"/><stop offset="0.433" stop-color="#2c728e"/><stop offset="0.4441" stop-color="#20928c"/><stop offset="0.4497" stop-color="#21a685"/><stop offset="0.4553" stop-color="#31b57b"/><stop offset="0.4609" stop-color="#38b977"/><stop offset="0.4721" stop-color="#2eb37c"/><stop offset="0.5279" stop-color="#2eb37c"/><stop offset="0.5391" stop-color="#38b977"/><stop offset="0.5447" stop-color="#31b57b"/><stop offset="0.5503" stop-color="#21a685"/><stop offset="0.5559" stop-color="#20928c"/><stop offset="0.567" stop-color="#2c728e"/><stop offset="0.5838" stop-color="#32658e"/><stop offset="0.7011" stop-color="#3c508b"/><stop offset="0.9134" stop-color="#424086"/><stop offset="1" stop-color="#433e85"/></linearGradient>
<linearGradient id="r79" gradientUnits="userSpaceOnUse" x1="0" x2="356.8" y1="0" y2="0"><stop offset="0" stop-color="#423f85"/><stop offset="0.2207" stop-color="#3e4989"/><stop offset="0.3771" stop-color="#355e8d"/><stop offset="0.4218" stop-color="#31688e"/><stop offset="0.433" stop-color="#2d708e"/><stop offset="0.4385" stop-color="#297a8e"/><stop offset="0.4441" stop-color="#23898e"/><stop offset="0.4497" stop-color="#1f9e89"/><stop offset="0.4553" stop-color="#2cb17e"/><stop offset="0.4609" stop-color="#3fbc73"/><stop offset="0.4665" stop-color="#44bf70"/><stop offset="0.4832" stop-color="#40bd72"/><stop offset="0.5056" stop-color="#44bf70"/><stop offset="0.5223" stop-color="#40bd72"/><stop offset="0.5335" stop-color="#44bf70"/><stop offset="0.5391" stop-color="#3fbc73"/><stop offset="0.5447" stop-color="#2cb17e"/><stop offset="0.5503" stop-color="#1f9e89"/><stop offset="0.5559" stop-color="#23898e"/><stop offset="0.567" stop-color="#2d708e"/><stop offset="0.5894" stop-color="#32648e"/><stop offset="0.7235" stop-color="#3c4f8a"/><stop offset="0.9525" stop-color="#424086"/><stop offset="1" stop-color="#423f85"/></linearGradient>
<linearGradient id="r80" gradientUnits="userSpaceOnUse" x1="0" x2="356.8" y1="0" y2="0"><stop offset="0" stop-color="#424086"/><stop offset="0.2151" stop-color="#3e4a89"/><stop offset="0.3771" stop-color="#355f8d"/><stop offset="0.4274" stop-color="#2f6b8e"/><stop offset="0.4385" stop-color="#2b758e"/><stop offset="0.4497" stop-color="#20938c"/><stop offset="0.4553" stop-color="#23a983"/><stop offset="0.4609" stop-color="#3bbb75"/><stop offset="0.4665" stop-color="#50c46a"/><stop offset="0.4721" stop-color="#58c765"/><stop offset="0.5" stop-color="#5ec962"/><stop offset="0.5279" stop-color="#58c765"/><stop offset="0.5335" stop-color="#50c46a"/><stop offset="0.5391" stop-color="#3bbb75"/><stop offset="0.5447" stop-color="#23a983"/><stop offset="0.5503" stop-color="#20938c"/><stop offset="0.5615" stop-color="#2b758e"/><stop offset="0.5782" stop-color="#30698e"/><stop offset="0.7067" stop-color="#3b528b"/><stop offset="0.9022" stop-color="#414487"/><stop offset="1" stop-color="#424086"/></linearGradient>
<linearGradient id="r81" gradientUnits="userSpaceOnUse" x1="0" x2="356.8" y1="0" y2="0"><stop offset="0" stop-color="#424186"/><stop offset="0.2374" stop-color="#3d4e8a"/><stop offset="0.3939" stop-color="#33638d"/><stop offset="0.433" stop-color="#2e6e8e"/><stop offset="0.4385" stop-color="#2c728e"/><stop offset="0.4441" stop-color="#297b8e"/><stop offset="0.4497" stop-color="#238a8d"/><stop offset="0.4553" stop-color="#1f9f88"/><stop offset="0.4609" stop-color="#31b57b"/><stop offset="0.4665" stop-color="#52c569"/><stop offset="0.4721" stop-color="#69cd5b"/><stop offset="0.4832" stop-color="#7cd250"/><stop offset="0.5112" stop-color="#7fd34e"/><stop offset="0.5223" stop-color="#75d054"/><stop offset="0.5279" stop-color="#69cd5b"/><stop offset="0.5335" stop-color="#52c569"/><stop offset="0.5391" stop-color="#31b57b"/><stop offset="0.5447" stop-color="#1f9f88"/><stop offset="0.5503" stop-color="#238a8d"/><stop offset="0.5559" stop-color="#297b8e"/><stop offset="0.567" stop-color="#2e6e8e"/><stop offset="0.6453" stop-color="#365d8d"/><stop offset="0.7793" stop-color="#3d4d8a"/><stop offset="1" stop-color="#424186"/></linearGradient>
<linearGradient id="r82" gradientUnits="userSpaceOnUse" x1="0" x2="356.8" y1="0" y2="0"><stop offset="0" stop-color="#414287"/><stop offset="0.2374" stop-color="#3c4f8a"/><stop offset="0.3939" stop-color="#32648e"/><stop offset="0.4385" stop-color="#2d718e"/><stop offset="0.4441" stop-color="#2a768e"/><stop offset="0.4497" stop-color="#26818e"/><stop offset="0.4553" stop-color="#20928c"/><stop offset="0.4609" stop-color="#24aa83"/><stop offset="0.4665" stop-color="#46c06f"/><stop offset="0.4721" stop-color="#6ece58"/><stop offset="0.4777" stop-color="#8bd646"/><stop offset="0.4832" stop-color="#9bd93c"/><stop offset="0.4888" stop-color="#a2da37"/><stop offset="0.5112" stop-color="#a2da37"/><stop offset="0.5168" stop-color="#9bd93c"/><stop offset="0.5223" stop-color="#8bd646"/><stop offset="0.5279" stop-color="#6ece58"/><stop offset="0.5335" stop-color="#46c06f"/><stop offset="0.5391" stop-color="#24aa83"/><stop offset="0.5447" stop-color="#20928c"/><stop offset="0.5503" stop-color="#26818e"/><stop offset="0.5559" stop-color="#2a768e"/><stop offset="0.5782" stop-color="#306a8e"/><stop offset="0.7402" stop-color="#3b518b"/><stop offset="0.9637" stop-color="#414487"/><stop offset="1" stop-color="#414287"/></linearGradient>
<linearGradient id="r83" gradientUnits="userSpaceOnUse" x1="0" x2="356.8" y1="0" y2="0"><stop offset="0" stop-color="#414487"/><stop offset="0.1983" stop-color="#3d4d8a"/><stop offset="0.3492" stop-color="#355e8d"/><stop offset="0.4385" stop-color="#2d708e"/><stop offset="0.4441" stop-color="#2c728e"/><stop offset="0.4553" stop-color="#24868e"/><stop offset="0.4609" stop-color="#1e9b8a"/><stop offset="0.4665" stop-color="#2fb47c"/><stop offset="0.4721" stop-color="#60ca60"/><stop offset="0.4777" stop-color="#8ed645"/><stop offset="0.4832" stop-color="#aadc32"/><stop offset="0.4888" stop-color="#b8de29"/><stop offset="0.5112" stop-color="#b8de29"/><stop offset="0.5168" stop-color="#aadc32"/><stop offset="0.5223" stop-color="#8ed645"/><stop offset="0.5279" stop-color="#60ca60"/><stop offset="0.5335" stop-color="#2fb47c"/><stop offset="0.5391" stop-color="#1e9b8a"/><stop offset="0.5447" stop-color="#24868e"/><stop offset="0.5559" stop-color="#2c728e"/><stop offset="0.6397" stop-color="#355f8d"/><stop offset="0.8017" stop-color="#3d4d8a"/><stop offset="1" stop-color="#414487"/></linearGradient>
<linearGradient id="r84" gradientUnits="userSpaceOnUse" x1="0" x2="356.8" y1="0" y2="0"><stop offset="0" stop-color="#404588"/><stop offset="0.2039" stop-color="#3d4e8a"/><stop offset="0.3659" stop-color="#34618d"/><stop offset="0.4441" stop-color="#2c718e"/><stop offset="0.4497" stop-color="#2b758e"/><stop offset="0.4553" stop-color="#277e8e"/><stop offset="0.4609" stop-color="#228d8d"/><stop offset="0.4665" stop-color="#20a486"/><stop offset="0.4721" stop-color="#44bf70"/><stop offset="0.4777" stop-color="#81d34d"/><stop offset="0.4832" stop-color="#b0dd2f"/><stop offset="0.4888" stop-color="#c8e020"/><stop offset="0.5" stop-color="#cde11d"/><stop offset="0.5112" stop-color="#c8e020"/><stop offset="0.5168" stop-color="#b0dd2f"/><stop offset="0.5223" stop-color="#81d34d"/><stop offset="0.5279" stop-color="#44bf70"/><stop offset="0.5335" stop-color="#20a486"/><stop offset="0.5391" stop-color="#228d8d"/><stop offset="0.5447" stop-color="#277e8e"/><stop offset="0.5559" stop-color="#2c718e"/><stop offset="0.6899" stop-color="#38598c"/><stop offset="0.8966" stop-color="#3f4889"/><stop offset="1" stop-color="#404588"/></linearGradient>
<linearGradient id="r85" gradientUnits="userSpaceOnUse" x1="0" x2="356.8" y1="0" y2="0"><stop offset="0" stop-color="#404588"/><stop offset="0.2318" stop-color="#3b518b"/><stop offset="0.4106" stop-color="#306a8e"/><stop offset="0.4497" stop-color="#2b748e"/><stop offset="0.4553" stop-color="#2a788e"/><stop offset="0.4609" stop-color="#26828e"/><stop offset="0.4665" stop-color="#1f948c"/><stop offset="0.4721" stop-color="#2ab07f"/><stop offset="0.4777" stop-color="#67cc5c"/><stop offset="0.4832" stop-color="#aadc32"/><stop offset="0.4888" stop-color="#d5e21a"/><stop offset="0.4944" stop-color="#dfe318"/><stop offset="0.5056" stop-color="#dfe318"/><stop offset="0.5112" stop-color="#d5e21a"/><stop offset="0.5168" stop-color="#aadc32"/><stop offset="0.5223" stop-color="#67cc5c"/><stop offset="0.5279" stop-color="#2ab07f"/><stop offset="0.5335" stop-color="#1f948c"/><stop offset="0.5391" stop-color="#26828e"/><stop offset="0.5447" stop-color="#2a788e"/><stop offset="0.5615" stop-color="#2d718e"/><stop offset="0.6955" stop-color="#38598c"/><stop offset="0.9134" stop-color="#3f4889"/><stop offset="1" stop-color="#404588"/></linearGradient>
<linearGradient id="r86" gradientUnits="userSpaceOnUse" x1="0" x2="356.8" y1="0" y2="0"><stop offset="0" stop-color="#404688"/><stop offset="0.2207" stop-color="#3b518b"/><stop offset="0.3994" stop-color="#30698e"/><stop offset="0.4553" stop-color="#2a768e"/><stop offset="0.4609" stop-color="#297b8e"/><stop offset="0.4665" stop-color="#24878e"/><stop offset="0.4721" stop-color="#1f9f88"/><stop offset="0.4777" stop-color="#46c06f"/><stop offset="0.4832" stop-color="#9bd93c"/><stop offset="0.4888" stop-color="#dae319"/><stop offset="0.4944" stop-color="#f1e51d"/><stop offset="0.5" stop-color="#f4e61e"/><stop offset="0.5056" stop-color="#f1e51d"/><stop offset="0.5112" stop-color="#dae319"/><stop offset="0.5168" stop-color="#9bd93c"/><stop offset="0.5223" stop-color="#46c06f"/><stop offset="0.5279" stop-color="#1f9f88"/><stop offset="0.5335" stop-color="#24878e"/><stop offset="0.5391" stop-color="#297b8e"/><stop offset="0.5559" stop-color="#2c728e"/><stop offset="0.7123" stop-color="#38588c"/><stop offset="0.9358" stop-color="#3f4889"/><stop offset="1" stop-color="#404688"/></linearGradient>
<linearGradient id="r87" gradientUnits="userSpaceOnUse" x1="0" x2="356.8" y1="0" y2="0"><stop offset="0" stop-color="#3f4788"/><stop offset="0.2374" stop-color="#3a538b"/><stop offset="0.405" stop-color="#2f6b8e"/><stop offset="0.4553" stop-color="#2a768e"/><stop offset="0.4665" stop-color="#277f8e"/><stop offset="0.4721" stop-color="#218e8d"/><stop offset="0.4777" stop-color="#25ac82"/><stop offset="0.4832" stop-color="#70cf57"/><stop offset="0.4888" stop-color="#c2df23"/><stop offset="0.4944" stop-color="#e7e419"/><stop offset="0.5" stop-color="#ece51b"/><stop offset="0.5056" stop-color="#e7e419"/><stop offset="0.5112" stop-color="#c2df23"/><stop offset="0.5168" stop-color="#70cf57"/><stop offset="0.5223" stop-color="#25ac82"/><stop offset="0.5279" stop-color="#218e8d"/><stop offset="0.5335" stop-color="#277f8e"/><stop offset="0.5503" stop-color="#2b748e"/><stop offset="0.6844" stop-color="#365c8d"/><stop offset="0.8631" stop-color="#3d4d8a"/><stop offset="1" stop-color="#3f4788"/></linearGradient>
<linearGradient id="r88" gradientUnits="userSpaceOnUse" x1="0" x2="356.8" y1="0" y2="0"><stop offset="0" stop-color="#3f4889"/><stop offset="0.2374" stop-color="#3a548c"/><stop offset="0.4106" stop-color="#2f6c8e"/><stop offset="0.4665" stop-color="#297b8e"/><stop offset="0.4721" stop-color="#26828e"/><stop offset="0.4777" stop-color="#1f978b"/><stop offset="0.4832" stop-color="#3dbc74"/><stop offset="0.4888" stop-color="#98d83e"/><stop offset="0.4944" stop-color="#cde11d"/><stop offset="0.5" stop-color="#d5e21a"/><stop offset="0.5056" stop-color="#cde11d"/><stop offset="0.5112" stop-color="#98d83e"/><stop offset="0.5168" stop-color="#3dbc74"/><stop offset="0.5223" stop-color="#1f978b"/><stop offset="0.5279" stop-color="#26828e"/><stop offset="0.5391" stop-color="#2a788e"/><stop offset="0.6676" stop-color="#355f8d"/><stop offset="0.852" stop-color="#3d4e8a"/><stop offset="1" stop-color="#3f4889"/></linearGradient>
<linearGradient id="r89" gradientUnits="userSpaceOnUse" x1="0" x2="356.8" y1="0" y2="0"><stop offset="0" stop-color="#3e4989"/><stop offset="0.2542" stop-color="#39568c"/><stop offset="0.4162" stop-color="#2e6e8e"/><stop offset="0.4665" stop-color="#297b8e"/><stop offset="0.4721" stop-color="#277f8e"/><stop offset="0.4777" stop-color="#23898e"/><stop offset="0.4832" stop-color="#22a785"/><stop offset="0.4888" stop-color="#6ccd5a"/><stop offset="0.4944" stop-color="#b0dd2f"/><stop offset="0.5" stop-color="#bddf26"/><stop offset="0.5056" stop-color="#b0dd2f"/><stop offset="0.5112" stop-color="#6ccd5a"/><stop offset="0.5168" stop-color="#22a785"/><stop offset="0.5223" stop-color="#23898e"/><stop offset="0.5279" stop-color="#277f8e"/><stop offset="0.567" stop-color="#2c718e"/><stop offset="0.7291" stop-color="#38598c"/><stop offset="0.919" stop-color="#3e4c8a"/><stop offset="1" stop-color="#3e4989"/></linearGradient>
<linearGradient id="r90" gradientUnits="userSpaceOnUse" x1="0" x2="356.8" y1="0" y2="0"><stop offset="0" stop-color="#3e4989"/><stop offset="0.243" stop-color="#39568c"/><stop offset="0.4162" stop-color="#2e6f8e"/><stop offset="0.4665" stop-color="#287c8e"/><stop offset="0.4777" stop-color="#25848e"/><stop offset="0.4832" stop-color="#1f978b"/><stop offset="0.4888" stop-color="#46c06f"/><stop offset="0.4944" stop-color="#9bd93c"/><stop offset="0.5" stop-color="#aadc32"/><stop offset="0.5056" stop-color="#9bd93c"/><stop offset="0.5112" stop-color="#46c06f"/><stop offset="0.5168" stop-color="#1f978b"/><stop offset="0.5223" stop-color="#25848e"/><stop offset="0.5503" stop-color="#2a768e"/><stop offset="0.7067" stop-color="#365c8d"/><stop offset="0.8911" stop-color="#3d4e8a"/><stop offset="1" stop-color="#3e4989"/></linearGradient>
<linearGradient id="r91" gradientUnits="userSpaceOnUse" x1="0" x2="356.8" y1="0" y2="0"><stop offset="0" stop-color="#3e4a89"/><stop offset="0.243" stop-color="#38588c"/><stop offset="0.3994" stop-color="#2e6d8e"/><stop offset="0.4609" stop-color="#287d8e"/><stop offset="0.4777" stop-color="#23898e"/><stop offset="0.4832" stop-color="#1f968b"/><stop offset="0.4888" stop-color="#3bbb75"/><stop offset="0.4944" stop-color="#98d83e"/><stop offset="0.5" stop-color="#b0dd2f"/><stop offset="0.5056" stop-color="#98d83e"/><stop offset="0.5112" stop-color="#3bbb75"/><stop offset="0.5168" stop-color="#1f968b"/><stop offset="0.5223" stop-color="#23898e"/><stop offset="0.5391" stop-color="#287d8e"/><stop offset="0.6006" stop-color="#2e6d8e"/><stop offset="0.7458" stop-color="#38598c"/><stop offset="0.9693" stop-color="#3e4c8a"/><stop offset="1" stop-color="#3e4a89"/></linearGradient>
<linearGradient id="r92" gradientUnits="userSpaceOnUse" x1="0" x2="356.8" y1="0" y2="0"><stop offset="0" stop-color="#3e4c8a"/><stop offset="0.2207" stop-color="#39568c"/><stop offset="0.3883" stop-color="#2f6c8e"/><stop offset="0.4497" stop-color="#287c8e"/><stop offset="0.4721" stop-color="#238a8d"/><stop offset="0.4777" stop-color="#20928c"/><stop offset="0.4832" stop-color="#1fa088"/><stop offset="0.4888" stop-color="#42be71"/><stop offset="0.4944" stop-color="#9dd93b"/><stop offset="0.5" stop-color="#bade28"/><stop offset="0.5056" stop-color="#9dd93b"/><stop offset="0.5112" stop-color="#42be71"/><stop offset="0.5168" stop-color="#1fa088"/><stop offset="0.5223" stop-color="#20928c"/><stop offset="0.5335" stop-color="#25848e"/><stop offset="0.5838" stop-color="#2c718e"/><stop offset="0.7291" stop-color="#375b8d"/><stop offset="0.9358" stop-color="#3d4e8a"/><stop offset="1" stop-color="#3e4c8a"/></linearGradient>
<linearGradient id="r93" gradientUnits="userSpaceOnUse" x1="0" x2="356.8" y1="0" y2="0"><stop offset="0" stop-color="#3d4d8a"/><stop offset="0.2207" stop-color="#38588c"/><stop offset="0.3827" stop-color="#2f6c8e"/><stop offset="0.4385" stop-color="#287c8e"/><stop offset="0.4609" stop-color="#24878e"/><stop offset="0.4721" stop-color="#1f968b"/><stop offset="0.4777" stop-color="#20a386"/><stop offset="0.4832" stop-color="#2eb37c"/><stop offset="0.4888" stop-color="#5ec962"/><stop offset="0.4944" stop-color="#aadc32"/><stop offset="0.5" stop-color="#bddf26"/><stop offset="0.5056" stop-color="#aadc32"/><stop offset="0.5112" stop-color="#5ec962"/><stop offset="0.5168" stop-color="#2eb37c"/><stop offset="0.5223" stop-color="#20a386"/><stop offset="0.5335" stop-color="#228d8d"/><stop offset="0.5559" stop-color="#277f8e"/><stop offset="0.6061" stop-color="#2e6f8e"/><stop offset="0.7458" stop-color="#375b8d"/><stop offset="0.9358" stop-color="#3c4f8a"/><stop offset="1" stop-color="#3d4d8a"/></linearGradient>
<linearGradient id="r94" gradientUnits="userSpaceOnUse" x1="0" x2="356.8" y1="0" y2="0"><stop offset="0" stop-color="#3d4e8a"/><stop offset="0.2151" stop-color="#38598c"/><stop offset="0.3715" stop-color="#2e6d8e"/><stop offset="0.4274" stop-color="#287c8e"/><stop offset="0.4553" stop-color="#228b8d"/><stop offset="0.4665" stop-color="#1e9b8a"/><stop offset="0.4721" stop-color="#25ab82"/><stop offset="0.4832" stop-color="#50c46a"/><stop offset="0.4888" stop-color="#77d153"/><stop offset="0.4944" stop-color="#a8db34"/><stop offset="0.5056" stop-color="#a8db34"/><stop offset="0.5112" stop-color="#77d153"/><stop offset="0.5168" stop-color="#50c46a"/><stop offset="0.5279" stop-color="#25ab82"/><stop offset="0.5335" stop-color="#1e9b8a"/><stop offset="0.5447" stop-color="#228b8d"/><stop offset="0.595" stop-color="#2b748e"/><stop offset="0.7291" stop-color="#355e8d"/><stop offset="0.9302" stop-color="#3c508b"/><stop offset="1" stop-color="#3d4e8a"/></linearGradient>
<linearGradient id="r95" gradientUnits="userSpaceOnUse" x1="0" x2="356.8" y1="0" y2="0"><stop offset="0" stop-color="#3c4f8a"/><stop offset="0.2095" stop-color="#375a8c"/><stop offset="0.3659" stop-color="#2e6e8e"/><stop offset="0.4162" stop-color="#297b8e"/><stop offset="0.4497" stop-color="#228d8d"/><stop offset="0.4553" stop-color="#20928c"/><stop offset="0.4609" stop-color="#1e9d89"/><stop offset="0.4665" stop-color="#26ad81"/><stop offset="0.4777" stop-color="#56c667"/><stop offset="0.4832" stop-color="#63cb5f"/><stop offset="0.4944" stop-color="#8bd646"/><stop offset="0.5" stop-color="#7ad151"/><stop offset="0.5056" stop-color="#8bd646"/><stop offset="0.5168" stop-color="#63cb5f"/><stop offset="0.5223" stop-color="#56c667"/><stop offset="0.5335" stop-color="#26ad81"/><stop offset="0.5391" stop-color="#1e9d89"/><stop offset="0.5447" stop-color="#20928c"/><stop offset="0.5726" stop-color="#27808e"/><stop offset="0.6229" stop-color="#2d708e"/><stop offset="0.7682" stop-color="#365c8d"/><stop offset="0.9693" stop-color="#3c508b"/><stop offset="1" stop-color="#3c4f8a"/></linearGradient>
<linearGradient id="r96" gradientUnits="userSpaceOnUse" x1="0" x2="356.8" y1="0" y2="0"><stop offset="0" stop-color="#3c4f8a"/><stop offset="0.2095" stop-color="#375b8d"/><stop offset="0.3659" stop-color="#2e6f8e"/><stop offset="0.4162" stop-color="#277e8e"/><stop offset="0.4497" stop-color="#20938c"/><stop offset="0.4553" stop-color="#1e9d89"/><stop offset="0.4609" stop-color="#26ad81"/><stop offset="0.4721" stop-color="#5ac864"/><stop offset="0.4777" stop-color="#67cc5c"/><stop offset="0.4888" stop-color="#6ece58"/><stop offset="0.4944" stop-color="#67cc5c"/><stop offset="0.5" stop-color="#4ac16d"/><stop offset="0.5056" stop-color="#67cc5c"/><stop offset="0.5112" stop-color="#6ece58"/><stop offset="0.5223" stop-color="#67cc5c"/><stop offset="0.5279" stop-color="#5ac864"/><stop offset="0.5391" stop-color="#26ad81"/><stop offset="0.5447" stop-color="#1e9d89"/><stop offset="0.5559" stop-color="#218e8d"/><stop offset="0.6006" stop-color="#2a778e"/><stop offset="0.7179" stop-color="#33628d"/><stop offset="0.9078" stop-color="#3a538b"/><stop offset="1" stop-color="#3c4f8a"/></linearGradient>
<linearGradient id="r97" gradientUnits="userSpaceOnUse" x1="0" x2="356.8" y1="0" y2="0"><stop offset="0" stop-color="#3c508b"/><stop offset="0.1927" stop-color="#375a8c"/><stop offset="0.3603" stop-color="#2e6f8e"/><stop offset="0.4106" stop-color="#277e8e"/><stop offset="0.4441" stop-color="#20938c"/><stop offset="0.4497" stop-color="#1e9d89"/><stop offset="0.4553" stop-color="#26ad81"/><stop offset="0.4665" stop-color="#5cc863"/><stop offset="0.4721" stop-color="#6ece58"/><stop offset="0.4777" stop-color="#73d056"/><stop offset="0.4832" stop-color="#6ece58"/><stop offset="0.4888" stop-color="#5ac864"/><stop offset="0.4944" stop-color="#3dbc74"/><stop offset="0.5" stop-color="#26ad81"/><stop offset="0.5056" stop-color="#3dbc74"/><stop offset="0.5112" stop-color="#5ac864"/><stop offset="0.5168" stop-color="#6ece58"/><stop offset="0.5223" stop-color="#73d056"/><stop offset="0.5279" stop-color="#6ece58"/><stop offset="0.5335" stop-color="#5cc863"/><stop offset="0.5391" stop-color="#40bd72"/><stop offset="0.5447" stop-color="#26ad81"/><stop offset="0.5503" stop-color="#1e9d89"/><stop offset="0.5559" stop-color="#20938c"/><stop offset="0.5894" stop-color="#277e8e"/><stop offset="0.6285" stop-color="#2c718e"/><stop offset="0.7849" stop-color="#365c8d"/><stop offset="0.9916" stop-color="#3c508b"/><stop offset="1" stop-color="#3c508b"/></linearGradient>
<linearGradient id="r98" gradientUnits="userSpaceOnUse" x1="0" x2="356.8" y1="0" y2="0"><stop offset="0" stop-color="#3c508b"/><stop offset="0.1872" stop-color="#375a8c"/><stop offset="0.3492" stop-color="#2e6e8e"/><stop offset="0.3994" stop-color="#287c8e"/><stop offset="0.433" stop-color="#218e8d"/><stop offset="0.4441" stop-color="#1e9c89"/><stop offset="0.4497" stop-color="#25ac82"/><stop offset="0.4609" stop-color="#60ca60"/><stop offset="0.4665" stop-color="#73d056"/><stop offset="0.4721" stop-color="#77d153"/><stop offset="0.4777" stop-color="#75d054"/><stop offset="0.4832" stop-color="#63cb5f"/><stop offset="0.4944" stop-color="#29af7f"/><stop offset="0.5" stop-color="#1fa287"/><stop offset="0.5056" stop-color="#29af7f"/><stop offset="0.5168" stop-color="#63cb5f"/><stop offset="0.5223" stop-color="#75d054"/><stop offset="0.5279" stop-color="#77d153"/><stop offset="0.5335" stop-color="#73d056"/><stop offset="0.5391" stop-color="#60ca60"/><stop offset="0.5447" stop-color="#40bd72"/><stop offset="0.5503" stop-color="#25ac82"/><stop offset="0.5559" stop-color="#1e9c89"/><stop offset="0.567" stop-color="#218e8d"/><stop offset="0.6117" stop-color="#2a778e"/><stop offset="0.7291" stop-color="#33628d"/><stop offset="0.9358" stop-color="#3b528b"/><stop offset="1" stop-color="#3c508b"/></linearGradient>
<linearGradient id="r99" gradientUnits="userSpaceOnUse" x1="0" x2="356.8" y1="0" y2="0"><stop offset="0" stop-color="#3c508b"/><stop offset="0.2095" stop-color="#365c8d"/><stop offset="0.3659" stop-color="#2c728e"/><stop offset="0.4162" stop-color="#24868e"/><stop offset="0.433" stop-color="#20928c"/><stop offset="0.4385" stop-color="#1e9c89"/><stop offset="0.4441" stop-color="#25ab82"/><stop offset="0.4497" stop-color="#3fbc73"/><stop offset="0.4553" stop-color="#60ca60"/><stop offset="0.4609" stop-color="#75d054"/><stop offset="0.4665" stop-color="#7fd34e"/><stop offset="0.4721" stop-color="#7ad151"/><stop offset="0.4777" stop-color="#69cd5b"/><stop offset="0.4888" stop-color="#2db27d"/><stop offset="0.4944" stop-color="#20a486"/><stop offset="0.5" stop-color="#1e9d89"/><stop offset="0.5056" stop-color="#20a486"/><stop offset="0.5112" stop-color="#2db27d"/><stop offset="0.5223" stop-color="#69cd5b"/><stop offset="0.5279" stop-color="#7ad151"/><stop offset="0.5335" stop-color="#7fd34e"/><stop offset="0.5391" stop-color="#75d054"/><stop offset="0.5447" stop-color="#60ca60"/><stop offset="0.5503" stop-color="#3fbc73"/><stop offset="0.5559" stop-color="#25ab82"/><stop offset="0.5615" stop-color="#1e9c89"/><stop offset="0.567" stop-color="#20928c"/><stop offset="0.6061" stop-color="#297b8e"/><stop offset="0.6788" stop-color="#306a8e"/><stop offset="0.8464" stop-color="#38588c"/><stop offset="1" stop-color="#3c508b"/></linearGradient>
<linearGradient id="r100" gradientUnits="userSpaceOnUse" x1="0" x2="356.8" y1="0" y2="0"><stop offset="0" stop-color="#3c508b"/><stop offset="0.2151" stop-color="#365d8d"/><stop offset="0.3659" stop-color="#2c738e"/><stop offset="0.4162" stop-color="#238a8d"/><stop offset="0.4274" stop-color="#20928c"/><stop offset="0.433" stop-color="#1f9a8a"/><stop offset="0.4385" stop-color="#23a983"/><stop offset="0.4441" stop-color="#3bbb75"/><stop offset="0.4497" stop-color="#5ec962"/><stop offset="0.4553" stop-color="#77d153"/><stop offset="0.4609" stop-color="#81d34d"/><stop offset="0.4665" stop-color="#7fd34e"/><stop offset="0.4721" stop-color="#70cf57"/><stop offset="0.4777" stop-color="#52c569"/><stop offset="0.4832" stop-color="#31b57b"/><stop offset="0.4888" stop-color="#21a685"/><stop offset="0.5" stop-color="#1f998a"/><stop offset="0.5112" stop-color="#21a685"/><stop offset="0.5168" stop-color="#31b57b"/><stop offset="0.5223" stop-color="#52c569"/><stop offset="0.5279" stop-color="#70cf57"/><stop offset="0.5335" stop-color="#7fd34e"/><stop offset="0.5391" stop-color="#81d34d"/><stop offset="0.5447" stop-color="#77d153"/><stop offset="0.5503" stop-color="#5ec962"/><stop offset="0.5559" stop-color="#3bbb75"/><stop offset="0.5615" stop-color="#23a983"/><stop offset="0.567" stop-color="#1f9a8a"/><stop offset="0.5782" stop-color="#218e8d"/><stop offset="0.6229" stop-color="#2a778e"/><stop offset="0.7402" stop-color="#33628d"/><stop offset="0.9469" stop-color="#3b528b"/><stop offset="1" stop-color="#3c508b"/></linearGradient>
<linearGradient id="r101" gradientUnits="userSpaceOnUse" x1="0" x2="356.8" y1="0" y2="0"><stop offset="0" stop-color="#3c508b"/><stop offset="0.2095" stop-color="#365d8d"/><stop offset="0.3603" stop-color="#2c738e"/><stop offset="0.4106" stop-color="#23898e"/><stop offset="0.4274" stop-color="#1f998a"/><stop offset="0.433" stop-color="#22a785"/><stop offset="0.4385" stop-color="#38b977"/><stop offset="0.4441" stop-color="#5cc863"/><stop offset="0.4497" stop-color="#75d054"/><stop offset="0.4553" stop-color="#7fd34e"/><stop offset="0.4609" stop-color="#7fd34e"/><stop offset="0.4665" stop-color="#73d056"/><stop offset="0.4721" stop-color="#56c667"/><stop offset="0.4777" stop-color="#34b679"/><stop offset="0.4832" stop-color="#22a884"/><stop offset="0.4944" stop-color="#1f9a8a"/><stop offset="0.5" stop-color="#1f978b"/><stop offset="0.5112" stop-color="#1f9f88"/><stop offset="0.5168" stop-color="#22a884"/><stop offset="0.5223" stop-color="#34b679"/><stop offset="0.5279" stop-color="#56c667"/><stop offset="0.5335" stop-color="#73d056"/><stop offset="0.5391" stop-color="#7fd34e"/><stop offset="0.5447" stop-color="#7fd34e"/><stop offset="0.5503" stop-color="#75d054"/><stop offset="0.5559" stop-color="#5cc863"/><stop offset="0.5615" stop-color="#38b977"/><stop offset="0.567" stop-color="#22a785"/><stop offset="0.5726" stop-color="#1f998a"/><stop offset="0.595" stop-color="#24868e"/><stop offset="0.6453" stop-color="#2c728e"/><stop offset="0.7905" stop-color="#365d8d"/><stop offset="1" stop-color="#3c508b"/></linearGradient>
<linearGradient id="r102" gradientUnits="userSpaceOnUse" x1="0" x2="356.8" y1="0" y2="0"><stop offset="0" stop-color="#3c508b"/><stop offset="0.1927" stop-color="#365c8d"/><stop offset="0.3492" stop-color="#2c718e"/><stop offset="0.3994" stop-color="#25858e"/><stop offset="0.4218" stop-color="#1f988b"/><stop offset="0.4274" stop-color="#20a486"/><stop offset="0.433" stop-color="#34b679"/><stop offset="0.4385" stop-color="#56c667"/><stop offset="0.4441" stop-color="#73d056"/><stop offset="0.4497" stop-color="#7fd34e"/><stop offset="0.4553" stop-color="#81d34d"/><stop offset="0.4609" stop-color="#75d054"/><stop offset="0.4665" stop-color="#5ac864"/><stop offset="0.4721" stop-color="#38b977"/><stop offset="0.4777" stop-color="#24aa83"/><stop offset="0.4888" stop-color="#1f9a8a"/><stop offset="0.5" stop-color="#1f958b"/><stop offset="0.5168" stop-color="#1fa088"/><stop offset="0.5223" stop-color="#24aa83"/><stop offset="0.5279" stop-color="#38b977"/><stop offset="0.5335" stop-color="#5ac864"/><stop offset="0.5391" stop-color="#75d054"/><stop offset="0.5447" stop-color="#81d34d"/><stop offset="0.5503" stop-color="#7fd34e"/><stop offset="0.5559" stop-color="#73d056"/><stop offset="0.5615" stop-color="#56c667"/><stop offset="0.567" stop-color="#34b679"/><stop offset="0.5726" stop-color="#20a486"/><stop offset="0.5838" stop-color="#21918c"/><stop offset="0.6173" stop-color="#287d8e"/><stop offset="0.662" stop-color="#2d708e"/><stop offset="0.8073" stop-color="#365c8d"/><stop offset="1" stop-color="#3c508b"/></linearGradient>
<linearGradient id="r103" gradientUnits="userSpaceOnUse" x1="0" x2="356.8" y1="0" y2="0"><stop offset="0" stop-color="#3b518b"/><stop offset="0.176" stop-color="#375b8d"/><stop offset="0.3212" stop-color="#2e6d8e"/><stop offset="0.3715" stop-color="#297a8e"/><stop offset="0.4106" stop-color="#21908d"/><stop offset="0.4162" stop-color="#1f968b"/><stop offset="0.4218" stop-color="#1fa287"/><stop offset="0.4274" stop-color="#2fb47c"/><stop offset="0.433" stop-color="#52c569"/><stop offset="0.4385" stop-color="#70cf57"/><stop offset="0.4441" stop-color="#7fd34e"/><stop offset="0.4497" stop-color="#81d34d"/><stop offset="0.4553" stop-color="#77d153"/><stop offset="0.4609" stop-color="#60ca60"/><stop offset="0.4665" stop-color="#3dbc74"/><stop offset="0.4721" stop-color="#25ac82"/><stop offset="0.4832" stop-color="#1e9b8a"/><stop offset="0.5" stop-color="#20938c"/><stop offset="0.5223" stop-color="#1fa188"/><stop offset="0.5279" stop-color="#25ac82"/><stop offset="0.5335" stop-color="#3dbc74"/><stop offset="0.5391" stop-color="#60ca60"/><stop offset="0.5447" stop-color="#77d153"/><stop offset="0.5503" stop-color="#81d34d"/><stop offset="0.5559" stop-color="#7fd34e"/><stop offset="0.5615" stop-color="#70cf57"/><stop offset="0.567" stop-color="#52c569"/><stop offset="0.5726" stop-color="#2fb47c"/><stop offset="0.5782" stop-color="#1fa287"/><stop offset="0.5838" stop-color="#1f968b"/><stop offset="0.6173" stop-color="#277f8e"/><stop offset="0.662" stop-color="#2d718e"/><stop offset="0.8017" stop-color="#365d8d"/><stop offset="0.9916" stop-color="#3b518b"/><stop offset="1" stop-color="#3b518b"/></linearGradient>
<linearGradient id="r104" gradientUnits="userSpaceOnUse" x1="0" x2="356.8" y1="0" y2="0"><stop offset="0" stop-color="#3b518b"/><stop offset="0.1704" stop-color="#375b8d"/><stop offset="0.3212" stop-color="#2e6e8e"/><stop offset="0.3715" stop-color="#287c8e"/><stop offset="0.405" stop-color="#21908d"/><stop offset="0.4106" stop-color="#1f958b"/><stop offset="0.4162" stop-color="#1fa088"/><stop offset="0.4218" stop-color="#2ab07f"/><stop offset="0.4274" stop-color="#4cc26c"/><stop offset="0.433" stop-color="#6ccd5a"/><stop offset="0.4385" stop-color="#7cd250"/><stop offset="0.4441" stop-color="#81d34d"/><stop offset="0.4497" stop-color="#7ad151"/><stop offset="0.4553" stop-color="#65cb5e"/><stop offset="0.4609" stop-color="#42be71"/><stop offset="0.4665" stop-color="#27ad81"/><stop offset="0.4721" stop-color="#1fa187"/><stop offset="0.4944" stop-color="#1f948c"/><stop offset="0.5056" stop-color="#1f948c"/><stop offset="0.5223" stop-color="#1e9c89"/><stop offset="0.5279" stop-color="#1fa187"/><stop offset="0.5335" stop-color="#27ad81"/><stop offset="0.5391" stop-color="#42be71"/><stop offset="0.5447" stop-color="#65cb5e"/><stop offset="0.5503" stop-color="#7ad151"/><stop offset="0.5559" stop-color="#81d34d"/><stop offset="0.5615" stop-color="#7cd250"/><stop offset="0.567" stop-color="#6ccd5a"/><stop offset="0.5726" stop-color="#4cc26c"/><stop offset="0.5782" stop-color="#2ab07f"/><stop offset="0.5838" stop-color="#1fa088"/><stop offset="0.5894" stop-color="#1f958b"/><stop offset="0.6173" stop-color="#26828e"/><stop offset="0.662" stop-color="#2c718e"/><stop offset="0.8184" stop-color="#365c8d"/><stop offset="1" stop-color="#3b518b"/></linearGradient>
<linearGradient id="r105" gradientUnits="userSpaceOnUse" x1="0" x2="356.8" y1="0" y2="0"><stop offset="0" stop-color="#3b518b"/><stop offset="0.1704" stop-color="#375b8d"/><stop offset="0.3268" stop-color="#2d708e"/><stop offset="0.3715" stop-color="#277e8e"/><stop offset="0.3994" stop-color="#218e8d"/><stop offset="0.4106" stop-color="#1e9d89"/><stop offset="0.4162" stop-color="#26ad81"/><stop offset="0.4218" stop-color="#44bf70"/><stop offset="0.4274" stop-color="#65cb5e"/><stop offset="0.433" stop-color="#77d153"/><stop offset="0.4385" stop-color="#7fd34e"/><stop offset="0.4441" stop-color="#7ad151"/><stop offset="0.4497" stop-color="#67cc5c"/><stop offset="0.4609" stop-color="#2ab07f"/><stop offset="0.4665" stop-color="#1fa287"/><stop offset="0.4888" stop-color="#20938c"/><stop offset="0.5112" stop-color="#20938c"/><stop offset="0.5335" stop-color="#1fa287"/><stop offset="0.5391" stop-color="#2ab07f"/><stop offset="0.5503" stop-color="#67cc5c"/><stop offset="0.5559" stop-color="#7ad151"/><stop offset="0.5615" stop-color="#7fd34e"/><stop offset="0.567" stop-color="#77d153"/><stop offset="0.5726" stop-color="#65cb5e"/><stop offset="0.5782" stop-color="#44bf70"/><stop offset="0.5838" stop-color="#26ad81"/><stop offset="0.5894" stop-color="#1e9d89"/><stop offset="0.6006" stop-color="#218e8d"/><stop offset="0.6453" stop-color="#2a778e"/><stop offset="0.7682" stop-color="#34618d"/><stop offset="0.9637" stop-color="#3b528b"/><stop offset="1" stop-color="#3b518b"/></linearGradient>
<linearGradient id="r106" gradientUnits="userSpaceOnUse" x1="0" x2="356.8" y1="0" y2="0"><stop offset="0" stop-color="#3c4f8a"/><stop offset="0.176" stop-color="#375a8c"/><stop offset="0.3212" stop-color="#2e6d8e"/><stop offset="0.3715" stop-color="#287d8e"/><stop offset="0.3994" stop-color="#218f8d"/><stop offset="0.405" stop-color="#1f978b"/><stop offset="0.4106" stop-color="#21a685"/><stop offset="0.4162" stop-color="#37b878"/><stop offset="0.4218" stop-color="#56c667"/><stop offset="0.4274" stop-color="#69cd5b"/><stop offset="0.433" stop-color="#70cf57"/><stop offset="0.4385" stop-color="#6ece58"/><stop offset="0.4441" stop-color="#60ca60"/><stop offset="0.4497" stop-color="#44bf70"/><stop offset="0.4553" stop-color="#28ae80"/><stop offset="0.4609" stop-color="#1fa188"/><stop offset="0.4721" stop-color="#1f958b"/><stop offset="0.5" stop-color="#228c8d"/><stop offset="0.5279" stop-color="#1f958b"/><stop offset="0.5391" stop-color="#1fa188"/><stop offset="0.5447" stop-color="#28ae80"/><stop offset="0.5503" stop-color="#44bf70"/><stop offset="0.5559" stop-color="#60ca60"/><stop offset="0.5615" stop-color="#6ece58"/><stop offset="0.567" stop-color="#70cf57"/><stop offset="0.5726" stop-color="#69cd5b"/><stop offset="0.5782" stop-color="#56c667"/><stop offset="0.5838" stop-color="#37b878"/><stop offset="0.5894" stop-color="#21a685"/><stop offset="0.595" stop-color="#1f978b"/><stop offset="0.6117" stop-color="#24868e"/><stop offset="0.662" stop-color="#2d718e"/><stop offset="0.7905" stop-color="#365d8d"/><stop offset="0.9804" stop-color="#3c508b"/><stop offset="1" stop-color="#3c4f8a"/></linearGradient>
<linearGradient id="r107" gradientUnits="userSpaceOnUse" x1="0" x2="356.8" y1="0" y2="0"><stop offset="0" stop-color="#3d4e8a"/><stop offset="0.1872" stop-color="#38598c"/><stop offset="0.3324" stop-color="#2e6e8e"/><stop offset="0.3827" stop-color="#26828e"/><stop offset="0.3939" stop-color="#238a8d"/><stop offset="0.405" stop-color="#1f9f88"/><stop offset="0.4106" stop-color="#2ab07f"/><stop offset="0.4162" stop-color="#44bf70"/><stop offset="0.4218" stop-color="#5ac864"/><stop offset="0.4274" stop-color="#63cb5f"/><stop offset="0.433" stop-color="#63cb5f"/><stop offset="0.4385" stop-color="#58c765"/><stop offset="0.4497" stop-color="#26ad81"/><stop offset="0.4553" stop-color="#1f9f88"/><stop offset="0.4665" stop-color="#20928c"/><stop offset="0.5" stop-color="#24878e"/><stop offset="0.5391" stop-color="#1f968b"/><stop offset="0.5447" stop-color="#1f9f88"/><stop offset="0.5503" stop-color="#26ad81"/><stop offset="0.5615" stop-color="#58c765"/><stop offset="0.567" stop-color="#63cb5f"/><stop offset="0.5726" stop-color="#63cb5f"/><stop offset="0.5782" stop-color="#5ac864"/><stop offset="0.5838" stop-color="#44bf70"/><stop offset="0.5894" stop-color="#2ab07f"/><stop offset="0.595" stop-color="#1f9f88"/><stop offset="0.6006" stop-color="#20928c"/><stop offset="0.6117" stop-color="#24868e"/><stop offset="0.6564" stop-color="#2c718e"/><stop offset="0.7737" stop-color="#365d8d"/><stop offset="0.9637" stop-color="#3c4f8a"/><stop offset="1" stop-color="#3d4e8a"/></linearGradient>
<linearGradient id="r108" gradientUnits="userSpaceOnUse" x1="0" x2="356.8" y1="0" y2="0"><stop offset="0" stop-color="#3e4c8a"/><stop offset="0.1927" stop-color="#38588c"/><stop offset="0.3268" stop-color="#2f6b8e"/><stop offset="0.3715" stop-color="#297b8e"/><stop offset="0.3939" stop-color="#228b8d"/><stop offset="0.3994" stop-color="#1f958b"/><stop offset="0.405" stop-color="#21a585"/><stop offset="0.4106" stop-color="#2fb47c"/><stop offset="0.4162" stop-color="#40bd72"/><stop offset="0.4218" stop-color="#48c16e"/><stop offset="0.4274" stop-color="#4ac16d"/><stop offset="0.433" stop-color="#44bf70"/><stop offset="0.4385" stop-color="#34b679"/><stop offset="0.4441" stop-color="#22a884"/><stop offset="0.4497" stop-color="#1e9b8a"/><stop offset="0.4609" stop-color="#218e8d"/><stop offset="0.5" stop-color="#25838e"/><stop offset="0.5391" stop-color="#218e8d"/><stop offset="0.5503" stop-color="#1e9b8a"/><stop offset="0.5559" stop-color="#22a884"/><stop offset="0.567" stop-color="#44bf70"/><stop offset="0.5726" stop-color="#4ac16d"/><stop offset="0.5782" stop-color="#48c16e"/><stop offset="0.5838" stop-color="#40bd72"/><stop offset="0.5894" stop-color="#2fb47c"/><stop offset="0.595" stop-color="#21a585"/><stop offset="0.6006" stop-color="#1f958b"/><stop offset="0.6117" stop-color="#25858e"/><stop offset="0.6564" stop-color="#2d708e"/><stop offset="0.7682" stop-color="#365c8d"/><stop offset="0.9637" stop-color="#3d4d8a"/><stop offset="1" stop-color="#3e4c8a"/></linearGradient>
<linearGradient id="r109" gradientUnits="userSpaceOnUse" x1="0" x2="356.8" y1="0" y2="0"><stop offset="0" stop-color="#3e4989"/><stop offset="0.2207" stop-color="#38598c"/><stop offset="0.3324" stop-color="#2f6b8e"/><stop offset="0.3771" stop-color="#287c8e"/><stop offset="0.3883" stop-color="#25838e"/><stop offset="0.3994" stop-color="#1f988b"/><stop offset="0.405" stop-color="#21a585"/><stop offset="0.4106" stop-color="#29af7f"/><stop offset="0.4218" stop-color="#31b57b"/><stop offset="0.433" stop-color="#26ad81"/><stop offset="0.4385" stop-color="#1fa188"/><stop offset="0.4497" stop-color="#228d8d"/><stop offset="0.4777" stop-color="#26828e"/><stop offset="0.5112" stop-color="#26818e"/><stop offset="0.5447" stop-color="#23898e"/><stop offset="0.5559" stop-color="#1f958b"/><stop offset="0.5615" stop-color="#1fa188"/><stop offset="0.567" stop-color="#26ad81"/><stop offset="0.5726" stop-color="#2eb37c"/><stop offset="0.5782" stop-color="#31b57b"/><stop offset="0.5894" stop-color="#29af7f"/><stop offset="0.595" stop-color="#21a585"/><stop offset="0.6061" stop-color="#228c8d"/><stop offset="0.6117" stop-color="#25838e"/><stop offset="0.6564" stop-color="#2e6e8e"/><stop offset="0.7626" stop-color="#375b8d"/><stop offset="0.9525" stop-color="#3e4c8a"/><stop offset="1" stop-color="#3e4989"/></linearGradient>
<linearGradient id="r110" gradientUnits="userSpaceOnUse" x1="0" x2="356.8" y1="0" y2="0"><stop offset="0" stop-color="#404588"/><stop offset="0.2095" stop-color="#3b528b"/><stop offset="0.338" stop-color="#31668e"/><stop offset="0.3827" stop-color="#2a778e"/><stop offset="0.3939" stop-color="#24868e"/><stop offset="0.405" stop-color="#1f998a"/><stop offset="0.4162" stop-color="#1f9f88"/><stop offset="0.4274" stop-color="#1f9a8a"/><stop offset="0.4441" stop-color="#26828e"/><stop offset="0.4721" stop-color="#29798e"/><stop offset="0.5168" stop-color="#2a778e"/><stop offset="0.5503" stop-color="#277e8e"/><stop offset="0.5615" stop-color="#23888e"/><stop offset="0.5726" stop-color="#1f9a8a"/><stop offset="0.5838" stop-color="#1f9f88"/><stop offset="0.595" stop-color="#1f998a"/><stop offset="0.6117" stop-color="#287d8e"/><stop offset="0.6285" stop-color="#2c718e"/><stop offset="0.7011" stop-color="#355e8d"/><stop offset="0.8352" stop-color="#3d4e8a"/><stop offset="1" stop-color="#404588"/></linearGradient>
<linearGradient id="r111" gradientUnits="userSpaceOnUse" x1="0" x2="356.8" y1="0" y2="0"><stop offset="0" stop-color="#423f85"/><stop offset="0.2095" stop-color="#3e4a89"/><stop offset="0.3324" stop-color="#365c8d"/><stop offset="0.3771" stop-color="#2f6b8e"/><stop offset="0.3883" stop-color="#2b758e"/><stop offset="0.3994" stop-color="#25848e"/><stop offset="0.4162" stop-color="#238a8d"/><stop offset="0.4441" stop-color="#2c718e"/><stop offset="0.5112" stop-color="#2f6c8e"/><stop offset="0.5559" stop-color="#2c718e"/><stop offset="0.5838" stop-color="#238a8d"/><stop offset="0.6006" stop-color="#25848e"/><stop offset="0.6173" stop-color="#2e6f8e"/><stop offset="0.6564" stop-color="#355f8d"/><stop offset="0.7514" stop-color="#3c4f8a"/><stop offset="0.9637" stop-color="#424086"/><stop offset="1" stop-color="#423f85"/></linearGradient>
<linearGradient id="r112" gradientUnits="userSpaceOnUse" x1="0" x2="356.8" y1="0" y2="0"><stop offset="0" stop-color="#453882"/><stop offset="0.2039" stop-color="#414287"/><stop offset="0.338" stop-color="#3a548c"/><stop offset="0.3771" stop-color="#33628d"/><stop offset="0.3994" stop-color="#2a778e"/><stop offset="0.4162" stop-color="#2a788e"/><stop offset="0.4441" stop-color="#32648e"/><stop offset="0.5223" stop-color="#34608d"/><stop offset="0.5615" stop-color="#31668e"/><stop offset="0.5838" stop-color="#2a788e"/><stop offset="0.6006" stop-color="#2a778e"/><stop offset="0.6285" stop-color="#355f8d"/><stop offset="0.6844" stop-color="#3c508b"/><stop offset="0.8408" stop-color="#423f85"/><stop offset="1" stop-color="#453882"/></linearGradient>
<linearGradient id="r113" gradientUnits="userSpaceOnUse" x1="0" x2="356.8" y1="0" y2="0"><stop offset="0" stop-color="#46327e"/><stop offset="0.2151" stop-color="#443b84"/><stop offset="0.3324" stop-color="#3e4a89"/><stop offset="0.3715" stop-color="#39568c"/><stop offset="0.3939" stop-color="#306a8e"/><stop offset="0.4162" stop-color="#30698e"/><stop offset="0.4385" stop-color="#38598c"/><stop offset="0.5112" stop-color="#3a538b"/><stop offset="0.5615" stop-color="#38598c"/><stop offset="0.5894" stop-color="#2f6b8e"/><stop offset="0.6061" stop-color="#306a8e"/><stop offset="0.6341" stop-color="#3a538b"/><stop offset="0.7235" stop-color="#424186"/><stop offset="0.9581" stop-color="#46337f"/><stop offset="1" stop-color="#46327e"/></linearGradient>
<linearGradient id="r114" gradientUnits="userSpaceOnUse" x1="0" x2="356.8" y1="0" y2="0"><stop offset="0" stop-color="#472c7a"/><stop offset="0.243" stop-color="#453581"/><stop offset="0.3436" stop-color="#414287"/><stop offset="0.3659" stop-color="#3e4a89"/><stop offset="0.3883" stop-color="#365c8d"/><stop offset="0.4106" stop-color="#365c8d"/><stop offset="0.4385" stop-color="#3e4c8a"/><stop offset="0.5112" stop-color="#3f4788"/><stop offset="0.5615" stop-color="#3e4c8a"/><stop offset="0.595" stop-color="#365d8d"/><stop offset="0.6173" stop-color="#38598c"/><stop offset="0.6397" stop-color="#3f4788"/><stop offset="0.7179" stop-color="#443983"/><stop offset="0.9134" stop-color="#472e7c"/><stop offset="1" stop-color="#472c7a"/></linearGradient>
<linearGradient id="r115" gradientUnits="userSpaceOnUse" x1="0" x2="356.8" y1="0" y2="0"><stop offset="0" stop-color="#482878"/><stop offset="0.2598" stop-color="#46327e"/><stop offset="0.3547" stop-color="#424086"/><stop offset="0.3827" stop-color="#3b528b"/><stop offset="0.405" stop-color="#3a548c"/><stop offset="0.4385" stop-color="#414487"/><stop offset="0.5223" stop-color="#424086"/><stop offset="0.5726" stop-color="#3f4788"/><stop offset="0.595" stop-color="#3a548c"/><stop offset="0.6173" stop-color="#3b528b"/><stop offset="0.6508" stop-color="#423f85"/><stop offset="0.7458" stop-color="#46327e"/><stop offset="1" stop-color="#482878"/></linearGradient>
<linearGradient id="r116" gradientUnits="userSpaceOnUse" x1="0" x2="356.8" y1="0" y2="0"><stop offset="0" stop-color="#482576"/><stop offset="0.2654" stop-color="#472e7c"/><stop offset="0.3492" stop-color="#443a83"/><stop offset="0.3827" stop-color="#3d4d8a"/><stop offset="0.405" stop-color="#3e4c8a"/><stop offset="0.433" stop-color="#433e85"/><stop offset="0.5223" stop-color="#443a83"/><stop offset="0.5726" stop-color="#423f85"/><stop offset="0.6006" stop-color="#3d4d8a"/><stop offset="0.6229" stop-color="#3e4a89"/><stop offset="0.6564" stop-color="#443983"/><stop offset="0.7402" stop-color="#472e7c"/><stop offset="1" stop-color="#482576"/></linearGradient>
<linearGradient id="r117" gradientUnits="userSpaceOnUse" x1="0" x2="356.8" y1="0" y2="0"><stop offset="0" stop-color="#482374"/><stop offset="0.2486" stop-color="#482979"/><stop offset="0.3436" stop-color="#453581"/><stop offset="0.3771" stop-color="#404588"/><stop offset="0.405" stop-color="#414487"/><stop offset="0.4274" stop-color="#443983"/><stop offset="0.5112" stop-color="#46337f"/><stop offset="0.5782" stop-color="#443a83"/><stop offset="0.6006" stop-color="#404588"/><stop offset="0.6285" stop-color="#414487"/><stop offset="0.6676" stop-color="#46327e"/><stop offset="0.7849" stop-color="#482878"/><stop offset="1" stop-color="#482374"/></linearGradient>
<linearGradient id="r118" gradientUnits="userSpaceOnUse" x1="0" x2="356.8" y1="0" y2="0"><stop offset="0" stop-color="#482071"/><stop offset="0.2654" stop-color="#482677"/><stop offset="0.3436" stop-color="#46327e"/><stop offset="0.3715" stop-color="#423f85"/><stop offset="0.3994" stop-color="#433e85"/><stop offset="0.4385" stop-color="#46307e"/><stop offset="0.5615" stop-color="#46307e"/><stop offset="0.6117" stop-color="#424086"/><stop offset="0.6397" stop-color="#443b84"/><stop offset="0.6732" stop-color="#472d7b"/><stop offset="0.7961" stop-color="#482475"/><stop offset="1" stop-color="#482071"/></linearGradient>
<linearGradient id="r119" gradientUnits="userSpaceOnUse" x1="0" x2="356.8" y1="0" y2="0"><stop offset="0" stop-color="#481d6f"/><stop offset="0.2542" stop-color="#482374"/><stop offset="0.3268" stop-color="#472a7a"/><stop offset="0.3659" stop-color="#443983"/><stop offset="0.3994" stop-color="#453781"/><stop offset="0.4274" stop-color="#472d7b"/><stop offset="0.5391" stop-color="#472a7a"/><stop offset="0.5894" stop-color="#46327e"/><stop offset="0.6173" stop-color="#443a83"/><stop offset="0.6453" stop-color="#453581"/><stop offset="0.6844" stop-color="#482878"/><stop offset="0.8296" stop-color="#482071"/><stop offset="1" stop-color="#481d6f"/></linearGradient>
<linearGradient id="r120" gradientUnits="userSpaceOnUse" x1="0" x2="356.8" y1="0" y2="0"><stop offset="0" stop-color="#481b6d"/><stop offset="0.2765" stop-color="#482173"/><stop offset="0.3324" stop-color="#482979"/><stop offset="0.3715" stop-color="#453581"/><stop offset="0.405" stop-color="#472f7d"/><stop offset="0.433" stop-color="#482878"/><stop offset="0.5391" stop-color="#482677"/><stop offset="0.5894" stop-color="#472d7b"/><stop offset="0.6229" stop-color="#453581"/><stop offset="0.6564" stop-color="#472e7c"/><stop offset="0.6955" stop-color="#482475"/><stop offset="0.8799" stop-color="#481c6e"/><stop offset="1" stop-color="#481b6d"/></linearGradient>
<linearGradient id="r121" gradientUnits="userSpaceOnUse" x1="0" x2="356.8" y1="0" y2="0"><stop offset="0" stop-color="#48186a"/><stop offset="0.2877" stop-color="#482071"/><stop offset="0.338" stop-color="#482979"/><stop offset="0.3715" stop-color="#46327e"/><stop offset="0.4274" stop-color="#482576"/><stop offset="0.5726" stop-color="#482576"/><stop offset="0.6341" stop-color="#46327e"/><stop offset="0.6955" stop-color="#482173"/><stop offset="0.9302" stop-color="#481a6c"/><stop offset="1" stop-color="#48186a"/></linearGradient>
<linearGradient id="r122" gradientUnits="userSpaceOnUse" x1="0" x2="356.8" y1="0" y2="0"><stop offset="0" stop-color="#481769"/><stop offset="0.2654" stop-color="#481c6e"/><stop offset="0.3324" stop-color="#482576"/><stop offset="0.3603" stop-color="#472d7b"/><stop offset="0.3939" stop-color="#482979"/><stop offset="0.4274" stop-color="#482374"/><stop offset="0.5279" stop-color="#482071"/><stop offset="0.6006" stop-color="#482677"/><stop offset="0.6341" stop-color="#472d7b"/><stop offset="0.662" stop-color="#482878"/><stop offset="0.6899" stop-color="#482071"/><stop offset="0.9022" stop-color="#48186a"/><stop offset="1" stop-color="#481769"/></linearGradient>
<linearGradient id="r123" gradientUnits="userSpaceOnUse" x1="0" x2="356.8" y1="0" y2="0"><stop offset="0" stop-color="#481467"/><stop offset="0.2821" stop-color="#481b6d"/><stop offset="0.3324" stop-color="#482374"/><stop offset="0.3659" stop-color="#482979"/><stop offset="0.433" stop-color="#481f70"/><stop offset="0.5782" stop-color="#481f70"/><stop offset="0.6397" stop-color="#482979"/><stop offset="0.7067" stop-color="#481c6e"/><stop offset="0.9469" stop-color="#481668"/><stop offset="1" stop-color="#481467"/></linearGradient>
<linearGradient id="r124" gradientUnits="userSpaceOnUse" x1="0" x2="356.8" y1="0" y2="0"><stop offset="0" stop-color="#471365"/><stop offset="0.2821" stop-color="#48186a"/><stop offset="0.3603" stop-color="#482475"/><stop offset="0.4218" stop-color="#481c6e"/><stop offset="0.6006" stop-color="#481d6f"/><stop offset="0.6397" stop-color="#482475"/><stop offset="0.7291" stop-color="#48186a"/><stop offset="1" stop-color="#471365"/></linearGradient>
<linearGradient id="r125" gradientUnits="userSpaceOnUse" x1="0" x2="356.8" y1="0" y2="0"><stop offset="0" stop-color="#471164"/><stop offset="0.2933" stop-color="#481769"/><stop offset="0.3659" stop-color="#481f70"/><stop offset="0.4721" stop-color="#48186a"/><stop offset="0.6117" stop-color="#481c6e"/><stop offset="0.6564" stop-color="#481f70"/><stop offset="0.7123" stop-color="#481769"/><stop offset="1" stop-color="#471164"/></linearGradient>
<linearGradient id="r126" gradientUnits="userSpaceOnUse" x1="0" x2="356.8" y1="0" y2="0"><stop offset="0" stop-color="#471063"/><stop offset="0.2821" stop-color="#481467"/><stop offset="0.3659" stop-color="#481b6d"/><stop offset="0.4553" stop-color="#481769"/><stop offset="0.6117" stop-color="#48186a"/><stop offset="0.6732" stop-color="#481a6c"/><stop offset="0.7458" stop-color="#481467"/><stop offset="1" stop-color="#471063"/></linearGradient>
<linearGradient id="r127" gradientUnits="userSpaceOnUse" x1="0" x2="356.8" y1="0" y2="0"><stop offset="0" stop-color="#470e61"/><stop offset="0.3101" stop-color="#481467"/><stop offset="0.3771" stop-color="#481668"/><stop offset="0.6229" stop-color="#481668"/><stop offset="0.7011" stop-color="#481467"/><stop offset="1" stop-color="#470e61"/></linearGradient>
<linearGradient id="r128" gradientUnits="userSpaceOnUse" x1="0" x2="356.8" y1="0" y2="0"><stop offset="0" stop-color="#470d60"/><stop offset="0.3045" stop-color="#471164"/><stop offset="0.3659" stop-color="#481467"/><stop offset="0.6117" stop-color="#471365"/><stop offset="0.6899" stop-color="#471365"/><stop offset="0.8631" stop-color="#470e61"/><stop offset="1" stop-color="#470d60"/></linearGradient>
<linearGradient id="r129" gradientUnits="userSpaceOnUse" x1="0" x2="356.8" y1="0" y2="0"><stop offset="0" stop-color="#460b5e"/><stop offset="0.4777" stop-color="#471063"/><stop offset="0.6955" stop-color="#471063"/><stop offset="1" stop-color="#460b5e"/></linearGradient>
<linearGradient id="r130" gradientUnits="userSpaceOnUse" x1="0" x2="356.8" y1="0" y2="0"><stop offset="0" stop-color="#460a5d"/><stop offset="0.7011" stop-color="#470e61"/><stop offset="1" stop-color="#460a5d"/></linearGradient>
<linearGradient id="r131" gradientUnits="userSpaceOnUse" x1="0" x2="356.8" y1="0" y2="0"><stop offset="0" stop-color="#460a5d"/><stop offset="0.7123" stop-color="#470d60"/><stop offset="1" stop-color="#460a5d"/></linearGradient>
<linearGradient id="r132" gradientUnits="userSpaceOnUse" x1="0" x2="356.8" y1="0" y2="0"><stop offset="0" stop-color="#46085c"/><stop offset="0.8631" stop-color="#460a5d"/><stop offset="1" stop-color="#46085c"/></linearGradient>
<linearGradient id="r133" gradientUnits="userSpaceOnUse" x1="0" x2="356.8" y1="0" y2="0"><stop offset="0" stop-color="#46075a"/><stop offset="0.757" stop-color="#460a5d"/><stop offset="1" stop-color="#46075a"/></linearGradient>
<linearGradient id="r134" gradientUnits="userSpaceOnUse" x1="0" x2="356.8" y1="0" y2="0"><stop offset="0" stop-color="#46075a"/><stop offset="0.6732" stop-color="#460a5d"/><stop offset="1" stop-color="#46075a"/></linearGradient>
<linearGradient id="r135" gradientUnits="userSpaceOnUse" x1="0" x2="356.8" y1="0" y2="0"><stop offset="0" stop-color="#450559"/><stop offset="0.6899" stop-color="#46085c"/><stop offset="1" stop-color="#450559"/></linearGradient>
<linearGradient id="r136" gradientUnits="userSpaceOnUse" x1="0" x2="356.8" y1="0" y2="0"><stop offset="0" stop-color="#450559"/><stop offset="1" stop-color="#450559"/></linearGradient>
<linearGradient id="r137" gradientUnits="userSpaceOnUse" x1="0" x2="356.8" y1="0" y2="0"><stop offset="0" stop-color="#450457"/><stop offset="0.7123" stop-color="#46075a"/><stop offset="1" stop-color="#450457"/></linearGradient>
<linearGradient id="r138" gradientUnits="userSpaceOnUse" x1="0" x2="356.8" y1="0" y2="0"><stop offset="0" stop-color="#450457"/><stop offset="1" stop-color="#450457"/></linearGradient>
<linearGradient id="r139" gradientUnits="userSpaceOnUse" x1="0" x2="356.8" y1="0" y2="0"><stop offset="0" stop-color="#450457"/><stop offset="1" stop-color="#450457"/></linearGradient>
<filter id="hb" x="-5%%" y="-5%%" width="110%%" height="110%%" color-interpolation-filters="sRGB"><feGaussianBlur stdDeviation="0.6 1.3"/></filter>
<clipPath id="hc"><rect width="356.8" height="279.4"/></clipPath>
<symbol id="hm" overflow="visible"><g clip-path="url(#hc)"><g filter="url(#hb)"><rect x="-6" y="-6.00" width="368.8" height="8.60" fill="url(#r0)"/><rect x="-6" y="2.00" width="368.8" height="2.60" fill="url(#r1)"/><rect x="-6" y="3.99" width="368.8" height="2.60" fill="url(#r2)"/><rect x="-6" y="5.99" width="368.8" height="2.60" fill="url(#r3)"/><rect x="-6" y="7.98" width="368.8" height="2.60" fill="url(#r4)"/><rect x="-6" y="9.98" width="368.8" height="2.60" fill="url(#r5)"/><rect x="-6" y="11.97" width="368.8" height="2.60" fill="url(#r6)"/><rect x="-6" y="13.97" width="368.8" height="2.60" fill="url(#r7)"/><rect x="-6" y="15.97" width="368.8" height="2.60" fill="url(#r8)"/><rect x="-6" y="17.96" width="368.8" height="2.60" fill="url(#r9)"/><rect x="-6" y="19.96" width="368.8" height="2.60" fill="url(#r10)"/><rect x="-6" y="21.95" width="368.8" height="2.60" fill="url(#r11)"/><rect x="-6" y="23.95" width="368.8" height="2.60" fill="url(#r12)"/><rect x="-6" y="25.94" width="368.8" height="2.60" fill="url(#r13)"/><rect x="-6" y="27.94" width="368.8" height="2.60" fill="url(#r14)"/><rect x="-6" y="29.94" width="368.8" height="2.60" fill="url(#r15)"/><rect x="-6" y="31.93" width="368.8" height="2.60" fill="url(#r16)"/><rect x="-6" y="33.93" width="368.8" height="2.60" fill="url(#r17)"/><rect x="-6" y="35.92" width="368.8" height="2.60" fill="url(#r18)"/><rect x="-6" y="37.92" width="368.8" height="2.60" fill="url(#r19)"/><rect x="-6" y="39.91" width="368.8" height="2.60" fill="url(#r20)"/><rect x="-6" y="41.91" width="368.8" height="2.60" fill="url(#r21)"/><rect x="-6" y="43.91" width="368.8" height="2.60" fill="url(#r22)"/><rect x="-6" y="45.90" width="368.8" height="2.60" fill="url(#r23)"/><rect x="-6" y="47.90" width="368.8" height="2.60" fill="url(#r24)"/><rect x="-6" y="49.89" width="368.8" height="2.60" fill="url(#r25)"/><rect x="-6" y="51.89" width="368.8" height="2.60" fill="url(#r26)"/><rect x="-6" y="53.88" width="368.8" height="2.60" fill="url(#r27)"/><rect x="-6" y="55.88" width="368.8" height="2.60" fill="url(#r28)"/><rect x="-6" y="57.88" width="368.8" height="2.60" fill="url(#r29)"/><rect x="-6" y="59.87" width="368.8" height="2.60" fill="url(#r30)"/><rect x="-6" y="61.87" width="368.8" height="2.60" fill="url(#r31)"/><rect x="-6" y="63.86" width="368.8" height="2.60" fill="url(#r32)"/><rect x="-6" y="65.86" width="368.8" height="2.60" fill="url(#r33)"/><rect x="-6" y="67.85" width="368.8" height="2.60" fill="url(#r34)"/><rect x="-6" y="69.85" width="368.8" height="2.60" fill="url(#r35)"/><rect x="-6" y="71.85" width="368.8" height="2.60" fill="url(#r36)"/><rect x="-6" y="73.84" width="368.8" height="2.60" fill="url(#r37)"/><rect x="-6" y="75.84" width="368.8" height="2.60" fill="url(#r38)"/><rect x="-6" y="77.83" width="368.8" height="2.60" fill="url(#r39)"/><rect x="-6" y="79.83" width="368.8" height="2.60" fill="url(#r40)"/><rect x="-6" y="81.82" width="368.8" height="2.60" fill="url(#r41)"/><rect x="-6" y="83.82" width="368.8" height="2.60" fill="url(#r42)"/><rect x="-6" y="85.82" width="368.8" height="2.60" fill="url(#r43)"/><rect x="-6" y="87.81" width="368.8" height="2.60" fill="url(#r44)"/><rect x="-6" y="89.81" width="368.8" height="2.60" fill="url(#r45)"/><rect x="-6" y="91.80" width="368.8" height="2.60" fill="url(#r46)"/><rect x="-6" y="93.80" width="368.8" height="2.60" fill="url(#r47)"/><rect x="-6" y="95.79" width="368.8" height="2.60" fill="url(#r48)"/><rect x="-6" y="97.79" width="368.8" height="2.60" fill="url(#r49)"/><rect x="-6" y="99.79" width="368.8" height="2.60" fill="url(#r50)"/><rect x="-6" y="101.78" width="368.8" height="2.60" fill="url(#r51)"/><rect x="-6" y="103.78" width="368.8" height="2.60" fill="url(#r52)"/><rect x="-6" y="105.77" width="368.8" height="2.60" fill="url(#r53)"/><rect x="-6" y="107.77" width="368.8" height="2.60" fill="url(#r54)"/><rect x="-6" y="109.76" width="368.8" height="2.60" fill="url(#r55)"/><rect x="-6" y="111.76" width="368.8" height="2.60" fill="url(#r56)"/><rect x="-6" y="113.76" width="368.8" height="2.60" fill="url(#r57)"/><rect x="-6" y="115.75" width="368.8" height="2.60" fill="url(#r58)"/><rect x="-6" y="117.75" width="368.8" height="2.60" fill="url(#r59)"/><rect x="-6" y="119.74" width="368.8" height="2.60" fill="url(#r60)"/><rect x="-6" y="121.74" width="368.8" height="2.60" fill="url(#r61)"/><rect x="-6" y="123.73" width="368.8" height="2.60" fill="url(#r62)"/><rect x="-6" y="125.73" width="368.8" height="2.60" fill="url(#r63)"/><rect x="-6" y="127.73" width="368.8" height="2.60" fill="url(#r64)"/><rect x="-6" y="129.72" width="368.8" height="2.60" fill="url(#r65)"/><rect x="-6" y="131.72" width="368.8" height="2.60" fill="url(#r66)"/><rect x="-6" y="133.71" width="368.8" height="2.60" fill="url(#r67)"/><rect x="-6" y="135.71" width="368.8" height="2.60" fill="url(#r68)"/><rect x="-6" y="137.70" width="368.8" height="2.60" fill="url(#r69)"/><rect x="-6" y="139.70" width="368.8" height="2.60" fill="url(#r70)"/><rect x="-6" y="141.70" width="368.8" height="2.60" fill="url(#r71)"/><rect x="-6" y="143.69" width="368.8" height="2.60" fill="url(#r72)"/><rect x="-6" y="145.69" width="368.8" height="2.60" fill="url(#r73)"/><rect x="-6" y="147.68" width="368.8" height="2.60" fill="url(#r74)"/><rect x="-6" y="149.68" width="368.8" height="2.60" fill="url(#r75)"/><rect x="-6" y="151.67" width="368.8" height="2.60" fill="url(#r76)"/><rect x="-6" y="153.67" width="368.8" height="2.60" fill="url(#r77)"/><rect x="-6" y="155.67" width="368.8" height="2.60" fill="url(#r78)"/><rect x="-6" y="157.66" width="368.8" height="2.60" fill="url(#r79)"/><rect x="-6" y="159.66" width="368.8" height="2.60" fill="url(#r80)"/><rect x="-6" y="161.65" width="368.8" height="2.60" fill="url(#r81)"/><rect x="-6" y="163.65" width="368.8" height="2.60" fill="url(#r82)"/><rect x="-6" y="165.64" width="368.8" height="2.60" fill="url(#r83)"/><rect x="-6" y="167.64" width="368.8" height="2.60" fill="url(#r84)"/><rect x="-6" y="169.64" width="368.8" height="2.60" fill="url(#r85)"/><rect x="-6" y="171.63" width="368.8" height="2.60" fill="url(#r86)"/><rect x="-6" y="173.63" width="368.8" height="2.60" fill="url(#r87)"/><rect x="-6" y="175.62" width="368.8" height="2.60" fill="url(#r88)"/><rect x="-6" y="177.62" width="368.8" height="2.60" fill="url(#r89)"/><rect x="-6" y="179.61" width="368.8" height="2.60" fill="url(#r90)"/><rect x="-6" y="181.61" width="368.8" height="2.60" fill="url(#r91)"/><rect x="-6" y="183.61" width="368.8" height="2.60" fill="url(#r92)"/><rect x="-6" y="185.60" width="368.8" height="2.60" fill="url(#r93)"/><rect x="-6" y="187.60" width="368.8" height="2.60" fill="url(#r94)"/><rect x="-6" y="189.59" width="368.8" height="2.60" fill="url(#r95)"/><rect x="-6" y="191.59" width="368.8" height="2.60" fill="url(#r96)"/><rect x="-6" y="193.58" width="368.8" height="2.60" fill="url(#r97)"/><rect x="-6" y="195.58" width="368.8" height="2.60" fill="url(#r98)"/><rect x="-6" y="197.58" width="368.8" height="2.60" fill="url(#r99)"/><rect x="-6" y="199.57" width="368.8" height="2.60" fill="url(#r100)"/><rect x="-6" y="201.57" width="368.8" height="2.60" fill="url(#r101)"/><rect x="-6" y="203.56" width="368.8" height="2.60" fill="url(#r102)"/><rect x="-6" y="205.56" width="368.8" height="2.60" fill="url(#r103)"/><rect x="-6" y="207.55" width="368.8" height="2.60" fill="url(#r104)"/><rect x="-6" y="209.55" width="368.8" height="2.60" fill="url(#r105)"/><rect x="-6" y="211.55" width="368.8" height="2.60" fill="url(#r106)"/><rect x="-6" y="213.54" width="368.8" height="2.60" fill="url(#r107)"/><rect x="-6" y="215.54" width="368.8" height="2.60" fill="url(#r108)"/><rect x="-6" y="217.53" width="368.8" height="2.60" fill="url(#r109)"/><rect x="-6" y="219.53" width="368.8" height="2.60" fill="url(#r110)"/><rect x="-6" y="221.52" width="368.8" height="2.60" fill="url(#r111)"/><rect x="-6" y="223.52" width="368.8" height="2.60" fill="url(#r112)"/><rect x="-6" y="225.52" width="368.8" height="2.60" fill="url(#r113)"/><rect x="-6" y="227.51" width="368.8" height="2.60" fill="url(#r114)"/><rect x="-6" y="229.51" width="368.8" height="2.60" fill="url(#r115)"/><rect x="-6" y="231.50" width="368.8" height="2.60" fill="url(#r116)"/><rect x="-6" y="233.50" width="368.8" height="2.60" fill="url(#r117)"/><rect x="-6" y="235.49" width="368.8" height="2.60" fill="url(#r118)"/><rect x="-6" y="237.49" width="368.8" height="2.60" fill="url(#r119)"/><rect x="-6" y="239.49" width="368.8" height="2.60" fill="url(#r120)"/><rect x="-6" y="241.48" width="368.8" height="2.60" fill="url(#r121)"/><rect x="-6" y="243.48" width="368.8" height="2.60" fill="url(#r122)"/><rect x="-6" y="245.47" width="368.8" height="2.60" fill="url(#r123)"/><rect x="-6" y="247.47" width="368.8" height="2.60" fill="url(#r124)"/><rect x="-6" y="249.46" width="368.8" height="2.60" fill="url(#r125)"/><rect x="-6" y="251.46" width="368.8" height="2.60" fill="url(#r126)"/><rect x="-6" y="253.46" width="368.8" height="2.60" fill="url(#r127)"/><rect x="-6" y="255.45" width="368.8" height="2.60" fill="url(#r128)"/><rect x="-6" y="257.45" width="368.8" height="2.60" fill="url(#r129)"/><rect x="-6" y="259.44" width="368.8" height="2.60" fill="url(#r130)"/><rect x="-6" y="261.44" width="368.8" height="2.60" fill="url(#r131)"/><rect x="-6" y="263.43" width="368.8" height="2.60" fill="url(#r132)"/><rect x="-6" y="265.43" width="368.8" height="2.60" fill="url(#r133)"/><rect x="-6" y="267.43" width="368.8" height="2.60" fill="url(#r134)"/><rect x="-6" y="269.42" width="368.8" height="2.60" fill="url(#r135)"/><rect x="-6" y="271.42" width="368.8" height="2.60" fill="url(#r136)"/><rect x="-6" y="273.41" width="368.8" height="2.60" fill="url(#r137)"/><rect x="-6" y="275.41" width="368.8" height="2.60" fill="url(#r138)"/><rect x="-6" y="277.40" width="368.8" height="8.00" fill="url(#r139)"/></g></g></symbol>
</defs>
<rect width="1411" height="1032" fill="#fff"/>
<use href="#hm" transform="translate(135.90 59.10) scale(0.99748 0.99714)"/>
<path d="M224.88 59.10v19.5M224.88 337.70v-19.5M313.85 59.10v19.5M313.85 337.70v-19.5M402.82 59.10v19.5M402.82 337.70v-19.5M135.90 59.10h19.5M491.80 59.10h-19.5M135.90 128.75h19.5M491.80 128.75h-19.5M135.90 198.40h19.5M491.80 198.40h-19.5M135.90 268.05h19.5M491.80 268.05h-19.5M135.90 337.70h19.5M491.80 337.70h-19.5M491.80 337.70v-19.5" stroke="#a09d94" stroke-width="1.9" fill="none"/>
<rect x="135.90" y="59.10" width="355.90" height="278.60" fill="none" stroke="#000" stroke-width="2"/>
<rect x="502.10" y="59.10" width="66.30" height="278.60" fill="url(#cb)"/>
<path d="M502.10 225.95h19.5M568.40 225.95h-19.5M502.10 114.19h19.5M568.40 114.19h-19.5" stroke="#8f8f8f" stroke-width="1.5" fill="none"/>
<rect x="502.10" y="59.10" width="66.30" height="278.60" fill="none" stroke="#000" stroke-width="2"/>
<text x="117.90" y="70.70" text-anchor="end">700</text>
<text x="117.90" y="140.35" text-anchor="end">650</text>
<text x="117.90" y="210.00" text-anchor="end">600</text>
<text x="117.90" y="279.65" text-anchor="end">550</text>
<text x="117.90" y="349.30" text-anchor="end">500</text>
<text transform="translate(103.63 375.10) scale(1.407 0.800)">−</text><text x="132.20" y="374.70">40</text>
<text transform="translate(192.60 375.10) scale(1.407 0.800)">−</text><text x="221.18" y="374.70">20</text>
<text x="313.85" y="374.70" text-anchor="middle">0</text>
<text x="402.82" y="374.70" text-anchor="middle">20</text>
<text x="491.80" y="374.70" text-anchor="middle">40</text>
<text x="580.70" y="349.50" text-anchor="start">0</text>
<text x="580.70" y="237.75" text-anchor="start" letter-spacing="0.7">0.2</text>
<text x="580.70" y="125.99" text-anchor="start" letter-spacing="0.7">0.4</text>
<text x="149.40" y="98.60" text-anchor="start" class="w">A1</text>
<text x="313.30" y="35.40" text-anchor="middle" font-size="41">correct result</text>
<text x="264.60" y="425.6" font-size="38" font-style="italic" font-family="DejaVu Serif,Liberation Serif,serif" stroke="none" class="n">ϑ</text>
<text x="303.80" y="425.60" text-anchor="start" font-size="41">in °</text>
<text font-size="37" font-style="italic" font-family="DejaVu Serif,Liberation Serif,serif" stroke="none" class="n" transform="translate(30.00 259.70) rotate(-90)">λ</text>
<text font-size="41" transform="translate(30.00 228.30) rotate(-90)">in nm</text>
<text font-size="41.0" transform="translate(683.40 196.90) rotate(-90)" text-anchor="middle">intensiy / a.u.</text>
<text x="317.00" y="481.00" text-anchor="middle" font-size="41" font-weight="bold" class="b">(a)</text>
<use href="#hm" transform="translate(855.50 59.10) scale(0.99748 0.99714)"/>
<path d="M944.48 59.10v19.5M944.48 337.70v-19.5M1033.45 59.10v19.5M1033.45 337.70v-19.5M1122.43 59.10v19.5M1122.43 337.70v-19.5M855.50 59.10h19.5M1211.40 59.10h-19.5M855.50 128.75h19.5M1211.40 128.75h-19.5M855.50 198.40h19.5M1211.40 198.40h-19.5M855.50 268.05h19.5M1211.40 268.05h-19.5M855.50 337.70h19.5M1211.40 337.70h-19.5M1211.40 337.70v-19.5" stroke="#a09d94" stroke-width="1.9" fill="none"/>
<rect x="855.50" y="59.10" width="355.90" height="278.60" fill="none" stroke="#000" stroke-width="2"/>
<rect x="1221.70" y="59.10" width="66.30" height="278.60" fill="url(#cb)"/>
<path d="M1221.70 225.25h19.5M1288.00 225.25h-19.5M1221.70 112.80h19.5M1288.00 112.80h-19.5" stroke="#8f8f8f" stroke-width="1.5" fill="none"/>
<rect x="1221.70" y="59.10" width="66.30" height="278.60" fill="none" stroke="#000" stroke-width="2"/>
<text x="842.00" y="70.70" text-anchor="end">700</text>
<text x="842.00" y="140.35" text-anchor="end">650</text>
<text x="842.00" y="210.00" text-anchor="end">600</text>
<text x="842.00" y="279.65" text-anchor="end">550</text>
<text x="842.00" y="349.30" text-anchor="end">500</text>
<text transform="translate(823.23 375.10) scale(1.407 0.800)">−</text><text x="851.80" y="374.70">40</text>
<text transform="translate(912.21 375.10) scale(1.407 0.800)">−</text><text x="940.77" y="374.70">20</text>
<text x="1033.45" y="374.70" text-anchor="middle">0</text>
<text x="1122.43" y="374.70" text-anchor="middle">20</text>
<text x="1211.40" y="374.70" text-anchor="middle">40</text>
<text x="1303.20" y="349.50" text-anchor="start">0</text>
<text x="1303.20" y="237.05" text-anchor="start" letter-spacing="0.7">0.2</text>
<text x="1303.20" y="124.60" text-anchor="start" letter-spacing="0.7">0.4</text>
<text x="869.00" y="98.60" text-anchor="start" class="w">A1</text>
<text x="1032.00" y="27.50" text-anchor="middle" font-size="41">four optimized dipoles</text>
<text x="984.20" y="425.6" font-size="38" font-style="italic" font-family="DejaVu Serif,Liberation Serif,serif" stroke="none" class="n">ϑ</text>
<text x="1023.40" y="425.60" text-anchor="start" font-size="41">in °</text>
<text font-size="37" font-style="italic" font-family="DejaVu Serif,Liberation Serif,serif" stroke="none" class="n" transform="translate(761.40 261.20) rotate(-90)">λ</text>
<text font-size="41" transform="translate(761.40 229.80) rotate(-90)">in nm</text>
<text font-size="41.0" transform="translate(1403.00 196.90) rotate(-90)" text-anchor="middle">intensiy / a.u.</text>
<text x="1040.00" y="481.00" text-anchor="middle" font-size="41" font-weight="bold" class="b">(b)</text>
<path d="M229.80 549.60v19.5M229.80 871.80v-19.5M380.98 549.60v19.5M380.98 871.80v-19.5M532.15 549.60v19.5M532.15 871.80v-19.5M683.33 549.60v19.5M683.33 871.80v-19.5M834.50 549.60v19.5M834.50 871.80v-19.5M169.00 849.50h19.5M895.20 849.50h-19.5M169.00 706.60h19.5M895.20 706.60h-19.5M169.00 563.70h19.5M895.20 563.70h-19.5" stroke="#808080" stroke-width="1.7" fill="none"/>
<rect x="169.00" y="549.60" width="726.20" height="322.20" fill="none" stroke="#000" stroke-width="2"/>
<path d="M229.8 844.9L231.3 844.8L232.8 844.7L234.3 844.6L235.8 844.5L237.4 844.4L238.9 844.2L240.4 844.1L241.9 843.9L243.4 843.7L244.9 843.6L246.4 843.4L247.9 843.2L249.5 843.0L251.0 842.8L252.5 842.6L254.0 842.4L255.5 842.2L257.0 841.9L258.5 841.7L260.0 841.4L261.5 841.1L263.1 840.8L264.6 840.5L266.1 840.2L267.6 839.8L269.1 839.5L270.6 839.2L272.1 838.8L273.6 838.5L275.2 838.1L276.7 837.7L278.2 837.4L279.7 837.0L281.2 836.6L282.7 836.2L284.2 835.8L285.7 835.4L287.2 835.0L288.8 834.5L290.3 834.0L291.8 833.5L293.3 833.0L294.8 832.4L296.3 831.8L297.8 831.2L299.3 830.5L300.9 829.7L302.4 828.8L303.9 827.8L305.4 826.8L306.9 825.7L308.4 824.5L309.9 823.2L311.4 821.8L312.9 820.3L314.5 818.6L316.0 816.9L317.5 815.1L319.0 813.2L320.5 811.2L322.0 809.1L323.5 806.9L325.0 804.5L326.6 802.0L328.1 799.4L329.6 796.8L331.1 794.0L332.6 791.1L334.1 788.0L335.6 784.8L337.1 781.5L338.6 778.3L340.2 775.0L341.7 771.4L343.2 767.0L344.7 761.1L346.2 753.6L347.7 745.3L349.2 737.0L350.7 728.7L352.3 719.9L353.8 710.9L355.3 702.0L356.8 693.0L358.3 683.9L359.8 674.9L361.3 666.0L362.8 657.5L364.3 649.1L365.9 640.4L367.4 630.5L368.9 620.1L370.4 611.0L371.9 603.7L373.4 597.5L374.9 592.0L376.4 587.3L378.0 583.6L379.5 580.6L381.0 578.7L382.5 577.4L384.0 576.7L385.5 576.4L387.0 576.8L388.5 577.6L390.0 578.8L391.6 580.5L393.1 582.7L394.6 585.5L396.1 588.5L397.6 591.7L399.1 595.3L400.6 599.0L402.1 602.8L403.7 606.5L405.2 610.2L406.7 613.9L408.2 617.7L409.7 621.3L411.2 624.7L412.7 627.9L414.2 631.0L415.7 634.0L417.3 636.9L418.8 639.8L420.3 642.7L421.8 645.5L423.3 648.4L424.8 651.4L426.3 654.3L427.8 657.3L429.4 660.1L430.9 662.8L432.4 665.2L433.9 667.4L435.4 669.3L436.9 671.1L438.4 672.8L439.9 674.4L441.4 675.9L443.0 677.3L444.5 678.8L446.0 680.3L447.5 681.7L449.0 683.2L450.5 684.6L452.0 685.9L453.5 687.2L455.1 688.4L456.6 689.5L458.1 690.5L459.6 691.5L461.1 692.4L462.6 693.3L464.1 694.1L465.6 694.9L467.1 695.7L468.7 696.5L470.2 697.3L471.7 698.1L473.2 698.8L474.7 699.6L476.2 700.3L477.7 700.9L479.2 701.5L480.8 702.1L482.3 702.6L483.8 703.2L485.3 703.7L486.8 704.1L488.3 704.4L489.8 704.6L491.3 704.7L492.8 704.8L494.4 704.9L495.9 704.9L497.4 704.9L498.9 704.7L500.4 704.5L501.9 704.3L503.4 703.9L504.9 703.1L506.5 702.1L508.0 700.9L509.5 699.0L511.0 695.9L512.5 692.3L514.0 688.8L515.5 685.2L517.0 681.4L518.5 677.8L520.1 674.2L521.6 671.0L523.1 668.7L524.6 670.3L526.1 672.5L527.6 677.2L529.1 682.1L530.6 686.4L532.1 690.5L533.7 694.5L535.2 698.4L536.7 702.1L538.2 705.7L539.7 709.3L541.2 712.7L542.7 716.1L544.2 719.4L545.8 722.5L547.3 725.6L548.8 728.6L550.3 731.5L551.8 734.4L553.3 737.1L554.8 739.8L556.3 742.4L557.8 745.0L559.4 747.5L560.9 750.0L562.4 752.4L563.9 754.8L565.4 757.1L566.9 759.3L568.4 761.4L569.9 763.4L571.5 765.3L573.0 767.1L574.5 768.8L576.0 770.4L577.5 772.0L579.0 773.5L580.5 775.0L582.0 776.4L583.5 777.8L585.1 779.2L586.6 780.5L588.1 781.7L589.6 782.9L591.1 784.1L592.6 785.2L594.1 786.3L595.6 787.3L597.2 788.4L598.7 789.4L600.2 790.3L601.7 791.3L603.2 792.2L604.7 793.2L606.2 794.1L607.7 794.9L609.2 795.8L610.8 796.7L612.3 797.5L613.8 798.4L615.3 799.2L616.8 800.0L618.3 800.9L619.8 801.7L621.3 802.5L622.9 803.3L624.4 804.1L625.9 804.8L627.4 805.6L628.9 806.4L630.4 807.1L631.9 807.8L633.4 808.5L634.9 809.1L636.5 809.8L638.0 810.4L639.5 811.0L641.0 811.6L642.5 812.1L644.0 812.6L645.5 813.2L647.0 813.7L648.6 814.2L650.1 814.6L651.6 815.1L653.1 815.6L654.6 816.0L656.1 816.5L657.6 817.0L659.1 817.4L660.6 817.9L662.2 818.4L663.7 818.8L665.2 819.3L666.7 819.8L668.2 820.2L669.7 820.7L671.2 821.1L672.7 821.6L674.3 822.0L675.8 822.5L677.3 822.9L678.8 823.3L680.3 823.7L681.8 824.1L683.3 824.5L684.8 824.9L686.3 825.2L687.9 825.6L689.4 825.9L690.9 826.3L692.4 826.6L693.9 826.9L695.4 827.2L696.9 827.5L698.4 827.9L700.0 828.2L701.5 828.5L703.0 828.8L704.5 829.1L706.0 829.4L707.5 829.7L709.0 830.0L710.5 830.3L712.0 830.6L713.6 830.9L715.1 831.2L716.6 831.5L718.1 831.8L719.6 832.1L721.1 832.4L722.6 832.7L724.1 833.0L725.7 833.2L727.2 833.5L728.7 833.8L730.2 834.1L731.7 834.3L733.2 834.6L734.7 834.9L736.2 835.1L737.7 835.4L739.3 835.7L740.8 835.9L742.3 836.2L743.8 836.4L745.3 836.7L746.8 836.9L748.3 837.1L749.8 837.4L751.4 837.6L752.9 837.8L754.4 838.0L755.9 838.3L757.4 838.5L758.9 838.7L760.4 838.9L761.9 839.1L763.4 839.3L765.0 839.5L766.5 839.7L768.0 839.9L769.5 840.1L771.0 840.3L772.5 840.4L774.0 840.6L775.5 840.8L777.1 840.9L778.6 841.1L780.1 841.2L781.6 841.4L783.1 841.5L784.6 841.7L786.1 841.8L787.6 842.0L789.1 842.1L790.7 842.2L792.2 842.4L793.7 842.5L795.2 842.6L796.7 842.7L798.2 842.8L799.7 842.9L801.2 843.0L802.8 843.1L804.3 843.2L805.8 843.2L807.3 843.3L808.8 843.4L810.3 843.5L811.8 843.5L813.3 843.6L814.8 843.7L816.4 843.8L817.9 843.8L819.4 843.9L820.9 844.0L822.4 844.0L823.9 844.1L825.4 844.2L826.9 844.3L828.5 844.3L830.0 844.4L831.5 844.5L833.0 844.5L834.5 844.6" stroke="#1b3f9f" stroke-width="2" fill="none" stroke-linejoin="round" transform="translate(0.5 -0.3)"/>
<circle cx="229.80" cy="844.90" r="4.7" fill="#3f4b8b" stroke="#1b3f9f" stroke-width="1.8"/>
<circle cx="275.15" cy="838.10" r="4.7" fill="#3f4b8b" stroke="#1b3f9f" stroke-width="1.8"/>
<circle cx="320.50" cy="811.20" r="4.7" fill="#3f4b8b" stroke="#1b3f9f" stroke-width="1.8"/>
<circle cx="365.86" cy="640.40" r="4.7" fill="#3f4b8b" stroke="#1b3f9f" stroke-width="1.8"/>
<circle cx="411.21" cy="624.70" r="4.7" fill="#3f4b8b" stroke="#1b3f9f" stroke-width="1.8"/>
<circle cx="456.56" cy="689.50" r="4.7" fill="#3f4b8b" stroke="#1b3f9f" stroke-width="1.8"/>
<circle cx="501.92" cy="704.30" r="4.7" fill="#3f4b8b" stroke="#1b3f9f" stroke-width="1.8"/>
<circle cx="547.27" cy="725.60" r="4.7" fill="#3f4b8b" stroke="#1b3f9f" stroke-width="1.8"/>
<circle cx="592.62" cy="785.20" r="4.7" fill="#3f4b8b" stroke="#1b3f9f" stroke-width="1.8"/>
<circle cx="637.97" cy="810.40" r="4.7" fill="#3f4b8b" stroke="#1b3f9f" stroke-width="1.8"/>
<circle cx="683.33" cy="824.50" r="4.7" fill="#3f4b8b" stroke="#1b3f9f" stroke-width="1.8"/>
<circle cx="728.68" cy="833.80" r="4.7" fill="#3f4b8b" stroke="#1b3f9f" stroke-width="1.8"/>
<circle cx="774.03" cy="840.60" r="4.7" fill="#3f4b8b" stroke="#1b3f9f" stroke-width="1.8"/>
<circle cx="819.38" cy="843.90" r="4.7" fill="#3f4b8b" stroke="#1b3f9f" stroke-width="1.8"/>
<path d="M229.8 844.9L231.3 844.8L232.8 844.7L234.3 844.6L235.8 844.5L237.4 844.4L238.9 844.2L240.4 844.1L241.9 843.9L243.4 843.7L244.9 843.6L246.4 843.4L247.9 843.2L249.5 843.0L251.0 842.8L252.5 842.6L254.0 842.4L255.5 842.2L257.0 841.9L258.5 841.7L260.0 841.4L261.5 841.1L263.1 840.8L264.6 840.5L266.1 840.2L267.6 839.8L269.1 839.5L270.6 839.2L272.1 838.8L273.6 838.5L275.2 838.1L276.7 837.7L278.2 837.4L279.7 837.0L281.2 836.6L282.7 836.2L284.2 835.8L285.7 835.4L287.2 835.0L288.8 834.5L290.3 834.0L291.8 833.5L293.3 833.0L294.8 832.4L296.3 831.8L297.8 831.2L299.3 830.5L300.9 829.7L302.4 828.8L303.9 827.8L305.4 826.8L306.9 825.7L308.4 824.5L309.9 823.2L311.4 821.8L312.9 820.3L314.5 818.6L316.0 816.9L317.5 815.1L319.0 813.2L320.5 811.2L322.0 809.1L323.5 806.9L325.0 804.5L326.6 802.0L328.1 799.4L329.6 796.8L331.1 794.0L332.6 791.1L334.1 788.0L335.6 784.8L337.1 781.5L338.6 778.3L340.2 775.0L341.7 771.4L343.2 767.0L344.7 761.1L346.2 753.6L347.7 745.3L349.2 737.0L350.7 728.7L352.3 719.9L353.8 710.9L355.3 702.0L356.8 693.0L358.3 683.9L359.8 674.9L361.3 666.0L362.8 657.5L364.3 649.1L365.9 640.4L367.4 630.5L368.9 620.1L370.4 611.0L371.9 603.7L373.4 597.5L374.9 592.0L376.4 587.3L378.0 583.6L379.5 580.6L381.0 578.7L382.5 577.4L384.0 576.7L385.5 576.4L387.0 576.8L388.5 577.6L390.0 578.8L391.6 580.5L393.1 582.7L394.6 585.5L396.1 588.5L397.6 591.7L399.1 595.3L400.6 599.0L402.1 602.8L403.7 606.5L405.2 610.2L406.7 613.9L408.2 617.7L409.7 621.3L411.2 624.7L412.7 627.9L414.2 631.0L415.7 634.0L417.3 636.9L418.8 639.8L420.3 642.7L421.8 645.5L423.3 648.4L424.8 651.4L426.3 654.3L427.8 657.3L429.4 660.1L430.9 662.8L432.4 665.2L433.9 667.4L435.4 669.3L436.9 671.1L438.4 672.8L439.9 674.4L441.4 675.9L443.0 677.3L444.5 678.8L446.0 680.3L447.5 681.7L449.0 683.2L450.5 684.6L452.0 685.9L453.5 687.2L455.1 688.4L456.6 689.5L458.1 690.5L459.6 691.5L461.1 692.4L462.6 693.3L464.1 694.1L465.6 694.9L467.1 695.7L468.7 696.5L470.2 697.3L471.7 698.1L473.2 698.8L474.7 699.6L476.2 700.3L477.7 700.9L479.2 701.5L480.8 702.1L482.3 702.6L483.8 703.2L485.3 703.7L486.8 704.1L488.3 704.4L489.8 704.6L491.3 704.7L492.8 704.8L494.4 704.9L495.9 704.9L497.4 704.9L498.9 704.7L500.4 704.5L501.9 704.3L503.4 703.9L504.9 703.1L506.5 702.1L508.0 700.9L509.5 699.0L511.0 695.9L512.5 692.3L514.0 688.8L515.5 685.2L517.0 681.4L518.5 677.8L520.1 674.2L521.6 671.0L523.1 668.7L524.6 670.3L526.1 672.5L527.6 677.2L529.1 682.1L530.6 686.4L532.1 690.5L533.7 694.5L535.2 698.4L536.7 702.1L538.2 705.7L539.7 709.3L541.2 712.7L542.7 716.1L544.2 719.4L545.8 722.5L547.3 725.6L548.8 728.6L550.3 731.5L551.8 734.4L553.3 737.1L554.8 739.8L556.3 742.4L557.8 745.0L559.4 747.5L560.9 750.0L562.4 752.4L563.9 754.8L565.4 757.1L566.9 759.3L568.4 761.4L569.9 763.4L571.5 765.3L573.0 767.1L574.5 768.8L576.0 770.4L577.5 772.0L579.0 773.5L580.5 775.0L582.0 776.4L583.5 777.8L585.1 779.2L586.6 780.5L588.1 781.7L589.6 782.9L591.1 784.1L592.6 785.2L594.1 786.3L595.6 787.3L597.2 788.4L598.7 789.4L600.2 790.3L601.7 791.3L603.2 792.2L604.7 793.2L606.2 794.1L607.7 794.9L609.2 795.8L610.8 796.7L612.3 797.5L613.8 798.4L615.3 799.2L616.8 800.0L618.3 800.9L619.8 801.7L621.3 802.5L622.9 803.3L624.4 804.1L625.9 804.8L627.4 805.6L628.9 806.4L630.4 807.1L631.9 807.8L633.4 808.5L634.9 809.1L636.5 809.8L638.0 810.4L639.5 811.0L641.0 811.6L642.5 812.1L644.0 812.6L645.5 813.2L647.0 813.7L648.6 814.2L650.1 814.6L651.6 815.1L653.1 815.6L654.6 816.0L656.1 816.5L657.6 817.0L659.1 817.4L660.6 817.9L662.2 818.4L663.7 818.8L665.2 819.3L666.7 819.8L668.2 820.2L669.7 820.7L671.2 821.1L672.7 821.6L674.3 822.0L675.8 822.5L677.3 822.9L678.8 823.3L680.3 823.7L681.8 824.1L683.3 824.5L684.8 824.9L686.3 825.2L687.9 825.6L689.4 825.9L690.9 826.3L692.4 826.6L693.9 826.9L695.4 827.2L696.9 827.5L698.4 827.9L700.0 828.2L701.5 828.5L703.0 828.8L704.5 829.1L706.0 829.4L707.5 829.7L709.0 830.0L710.5 830.3L712.0 830.6L713.6 830.9L715.1 831.2L716.6 831.5L718.1 831.8L719.6 832.1L721.1 832.4L722.6 832.7L724.1 833.0L725.7 833.2L727.2 833.5L728.7 833.8L730.2 834.1L731.7 834.3L733.2 834.6L734.7 834.9L736.2 835.1L737.7 835.4L739.3 835.7L740.8 835.9L742.3 836.2L743.8 836.4L745.3 836.7L746.8 836.9L748.3 837.1L749.8 837.4L751.4 837.6L752.9 837.8L754.4 838.0L755.9 838.3L757.4 838.5L758.9 838.7L760.4 838.9L761.9 839.1L763.4 839.3L765.0 839.5L766.5 839.7L768.0 839.9L769.5 840.1L771.0 840.3L772.5 840.4L774.0 840.6L775.5 840.8L777.1 840.9L778.6 841.1L780.1 841.2L781.6 841.4L783.1 841.5L784.6 841.7L786.1 841.8L787.6 842.0L789.1 842.1L790.7 842.2L792.2 842.4L793.7 842.5L795.2 842.6L796.7 842.7L798.2 842.8L799.7 842.9L801.2 843.0L802.8 843.1L804.3 843.2L805.8 843.2L807.3 843.3L808.8 843.4L810.3 843.5L811.8 843.5L813.3 843.6L814.8 843.7L816.4 843.8L817.9 843.8L819.4 843.9L820.9 844.0L822.4 844.0L823.9 844.1L825.4 844.2L826.9 844.3L828.5 844.3L830.0 844.4L831.5 844.5L833.0 844.5L834.5 844.6" stroke="#e8350c" stroke-width="2.2" fill="none" stroke-linejoin="round"/>
<rect x="247.18" y="838.00" width="9.2" height="9.2" fill="#c25f3a" stroke="#e8350c" stroke-width="1.8"/>
<rect x="292.53" y="826.60" width="9.2" height="9.2" fill="#c25f3a" stroke="#e8350c" stroke-width="1.8"/>
<rect x="337.88" y="762.40" width="9.2" height="9.2" fill="#c25f3a" stroke="#e8350c" stroke-width="1.8"/>
<rect x="383.23" y="573.00" width="9.2" height="9.2" fill="#c25f3a" stroke="#e8350c" stroke-width="1.8"/>
<rect x="428.59" y="662.80" width="9.2" height="9.2" fill="#c25f3a" stroke="#e8350c" stroke-width="1.8"/>
<rect x="473.94" y="696.90" width="9.2" height="9.2" fill="#c25f3a" stroke="#e8350c" stroke-width="1.8"/>
<rect x="519.29" y="665.70" width="9.2" height="9.2" fill="#c25f3a" stroke="#e8350c" stroke-width="1.8"/>
<rect x="564.64" y="758.80" width="9.2" height="9.2" fill="#c25f3a" stroke="#e8350c" stroke-width="1.8"/>
<rect x="610.00" y="794.60" width="9.2" height="9.2" fill="#c25f3a" stroke="#e8350c" stroke-width="1.8"/>
<rect x="655.35" y="813.30" width="9.2" height="9.2" fill="#c25f3a" stroke="#e8350c" stroke-width="1.8"/>
<rect x="700.70" y="824.80" width="9.2" height="9.2" fill="#c25f3a" stroke="#e8350c" stroke-width="1.8"/>
<rect x="746.05" y="833.00" width="9.2" height="9.2" fill="#c25f3a" stroke="#e8350c" stroke-width="1.8"/>
<rect x="791.41" y="838.10" width="9.2" height="9.2" fill="#c25f3a" stroke="#e8350c" stroke-width="1.8"/>
<circle cx="229.80" cy="844.90" r="4.7" fill="#3f4b8b" stroke="#1b3f9f" stroke-width="1.8"/>
<circle cx="275.15" cy="838.10" r="4.7" fill="#3f4b8b" stroke="#1b3f9f" stroke-width="1.8"/>
<circle cx="320.50" cy="811.20" r="4.7" fill="#3f4b8b" stroke="#1b3f9f" stroke-width="1.8"/>
<circle cx="365.86" cy="640.40" r="4.7" fill="#3f4b8b" stroke="#1b3f9f" stroke-width="1.8"/>
<circle cx="411.21" cy="624.70" r="4.7" fill="#3f4b8b" stroke="#1b3f9f" stroke-width="1.8"/>
<circle cx="456.56" cy="689.50" r="4.7" fill="#3f4b8b" stroke="#1b3f9f" stroke-width="1.8"/>
<circle cx="501.92" cy="704.30" r="4.7" fill="#3f4b8b" stroke="#1b3f9f" stroke-width="1.8"/>
<circle cx="547.27" cy="725.60" r="4.7" fill="#3f4b8b" stroke="#1b3f9f" stroke-width="1.8"/>
<circle cx="592.62" cy="785.20" r="4.7" fill="#3f4b8b" stroke="#1b3f9f" stroke-width="1.8"/>
<circle cx="637.97" cy="810.40" r="4.7" fill="#3f4b8b" stroke="#1b3f9f" stroke-width="1.8"/>
<circle cx="683.33" cy="824.50" r="4.7" fill="#3f4b8b" stroke="#1b3f9f" stroke-width="1.8"/>
<circle cx="728.68" cy="833.80" r="4.7" fill="#3f4b8b" stroke="#1b3f9f" stroke-width="1.8"/>
<circle cx="774.03" cy="840.60" r="4.7" fill="#3f4b8b" stroke="#1b3f9f" stroke-width="1.8"/>
<circle cx="819.38" cy="843.90" r="4.7" fill="#3f4b8b" stroke="#1b3f9f" stroke-width="1.8"/>
<text x="229.80" y="911.80" text-anchor="middle">500</text>
<text x="380.98" y="911.80" text-anchor="middle">550</text>
<text x="532.15" y="911.80" text-anchor="middle">600</text>
<text x="683.33" y="911.80" text-anchor="middle">650</text>
<text x="834.50" y="911.80" text-anchor="middle">700</text>
<text x="156.00" y="861.70" text-anchor="end">0</text>
<text x="156.00" y="718.80" text-anchor="end">0.2</text>
<text x="156.00" y="575.90" text-anchor="end">0.4</text>
<text x="204.00" y="598.00" text-anchor="start">A1</text>
<text x="204.8" y="640.4" font-size="33.5" font-style="italic" font-family="DejaVu Serif,Liberation Serif,serif" stroke="none" class="n">ϑ</text>
<text transform="translate(238.86 642.75) scale(1.47 1)">=</text>
<text x="275.50" y="640.60" text-anchor="start">5</text>
<text x="295.90" y="638.10" text-anchor="start" font-size="34">°</text>
<text x="532.10" y="963.00" text-anchor="middle" font-size="41">wavelength / nm</text>
<text font-size="41.0" transform="translate(75.00 709.20) rotate(-90)" text-anchor="middle">intensiy / a.u.</text>
<text x="706.00" y="1023.00" text-anchor="middle" font-size="41" font-weight="bold" class="b">(c)</text>
<rect x="918.1" y="550.2" width="464.6" height="117" fill="#fff" stroke="#000" stroke-width="1.9"/>
<path d="M932.5 584H1011.5" stroke="#1b3f9f" stroke-width="2"/><circle cx="972.00" cy="584.00" r="4.7" fill="#3f4b8b" stroke="#1b3f9f" stroke-width="1.8"/>
<path d="M932.5 634.3H1011.5" stroke="#e8350c" stroke-width="2"/><rect x="967.40" y="629.70" width="9.2" height="9.2" fill="#c25f3a" stroke="#e8350c" stroke-width="1.8"/>
<text x="1022.50" y="595.00" text-anchor="start">continuous EML</text>
<text x="1022.50" y="645.50" text-anchor="start">four optimized dipoles</text>
</svg>
</body></html>
